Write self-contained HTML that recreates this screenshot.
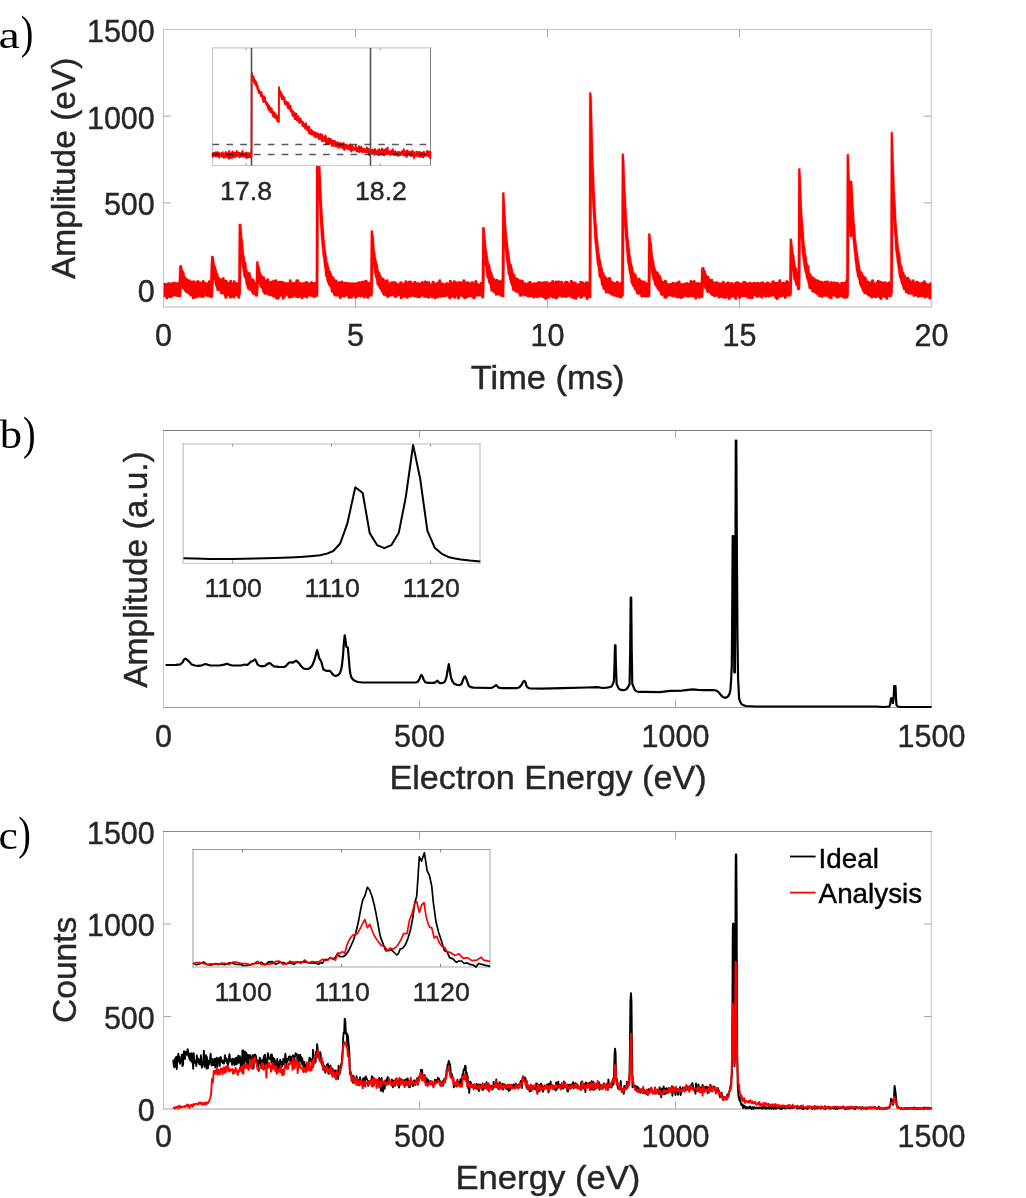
<!DOCTYPE html>
<html lang="en"><head><meta charset="utf-8"><title>Figure</title>
<style>
html,body{margin:0;padding:0;background:#fff;}
body{width:1026px;height:1198px;overflow:hidden;}
svg{display:block;}
.sans{font-family:"Liberation Sans",Arial,Helvetica,sans-serif;stroke:#262626;stroke-width:0.42px;}
.blk{stroke:#000;}
.serif{font-family:"Liberation Serif","Times New Roman",serif;}
</style></head><body>
<svg width="1026" height="1198" viewBox="0 0 1026 1198">
<rect x="0" y="0" width="1026" height="1198" fill="#fff"/>
<rect x="163.5" y="29.5" width="767.8" height="277.5" fill="#fff"/>
<line x1="163.5" y1="29" x2="163.5" y2="307.5" stroke="#c4c4c4" stroke-width="1"/>
<line x1="931.3" y1="29" x2="931.3" y2="307.5" stroke="#c4c4c4" stroke-width="1"/>
<line x1="163" y1="29.5" x2="931.8" y2="29.5" stroke="#c4c4c4" stroke-width="1"/>
<line x1="163" y1="307" x2="931.8" y2="307" stroke="#cfcfcf" stroke-width="1.6"/>
<line x1="355.5" y1="307" x2="355.5" y2="299.3" stroke="#a8a8a8" stroke-width="1"/>
<line x1="355.5" y1="29.5" x2="355.5" y2="37.2" stroke="#a8a8a8" stroke-width="1"/>
<line x1="547.5" y1="307" x2="547.5" y2="299.3" stroke="#a8a8a8" stroke-width="1"/>
<line x1="547.5" y1="29.5" x2="547.5" y2="37.2" stroke="#a8a8a8" stroke-width="1"/>
<line x1="739.5" y1="307" x2="739.5" y2="299.3" stroke="#a8a8a8" stroke-width="1"/>
<line x1="739.5" y1="29.5" x2="739.5" y2="37.2" stroke="#a8a8a8" stroke-width="1"/>
<line x1="163.5" y1="202.9" x2="171.2" y2="202.9" stroke="#a8a8a8" stroke-width="1"/>
<line x1="931.5" y1="202.9" x2="923.8" y2="202.9" stroke="#a8a8a8" stroke-width="1"/>
<line x1="163.5" y1="116.2" x2="171.2" y2="116.2" stroke="#a8a8a8" stroke-width="1"/>
<line x1="931.5" y1="116.2" x2="923.8" y2="116.2" stroke="#a8a8a8" stroke-width="1"/>
<polygon points="163.8,282.9 164.2,282.9 164.8,282.9 165.2,282.9 165.8,282.9 166.2,283.5 166.8,283.5 167.2,282.9 167.8,282.2 168.2,282.2 168.8,282.2 169.2,282.2 169.8,282.2 170.2,283.8 170.8,283 171.2,282.2 171.8,282.2 172.2,282.2 172.8,282.2 173.2,282.1 173.8,282.1 174.2,282.1 174.8,282.1 175.2,282.1 175.8,282.3 176.2,282.4 176.8,282.2 177.2,282.2 177.8,282.2 178.2,282.2 178.8,281.4 179.2,267.4 179.8,265.3 180.2,265.3 180.8,265.3 181.2,265.3 181.8,265.3 182.2,267.7 182.8,270.3 183.2,270.6 183.8,271.6 184.2,272 184.8,275.5 185.2,276.6 185.8,276.6 186.2,278.1 186.8,278.1 187.2,278.2 187.8,279.1 188.2,279.4 188.8,279.4 189.2,279.4 189.8,279.4 190.2,279.4 190.8,280.8 191.2,280.8 191.8,280.8 192.2,280.9 192.8,280.6 193.2,280.6 193.8,280.6 194.2,280.6 194.8,280.6 195.2,281.7 195.8,282.1 196.2,281.6 196.8,280.3 197.2,280.3 197.8,280.3 198.2,280.3 198.8,280.3 199.2,281.6 199.8,281.6 200.2,281.6 200.8,281.6 201.2,281.9 201.8,281.9 202.2,280.3 202.8,280.3 203.2,280.3 203.8,280.3 204.2,280.3 204.8,281.9 205.2,281.9 205.8,282.2 206.2,282.5 206.8,282.5 207.2,282.5 207.8,283.1 208.2,280.5 208.8,280.5 209.2,280.5 209.8,280.5 210.2,280.5 210.8,264 211.2,256 211.8,256 212.2,256 212.8,256 213.2,256 213.8,257.5 214.2,261.1 214.8,264.3 215.2,266.3 215.8,266.3 216.2,269.2 216.8,269.8 217.2,272.8 217.8,273.6 218.2,273.6 218.8,276.9 219.2,276.9 219.8,278.1 220.2,278.1 220.8,278.8 221.2,278.8 221.8,278.8 222.2,277.3 222.8,277.3 223.2,277.3 223.8,277.3 224.2,277.3 224.8,280 225.2,280 225.8,280 226.2,280 226.8,280 227.2,280 227.8,282.1 228.2,282.1 228.8,282.1 229.2,282.1 229.8,280 230.2,280 230.8,280 231.2,280 231.8,280 232.2,282.3 232.8,283 233.2,280.6 233.8,280.6 234.2,280.6 234.8,280.6 235.2,280.6 235.8,282.4 236.2,282.4 236.8,282.4 237.2,282.5 237.8,282.1 238.2,282.1 238.8,224 239.2,224 239.8,224 240.2,224 240.8,224 241.2,224.2 241.8,229.4 242.2,237 242.8,239.5 243.2,245.5 243.8,252.3 244.2,254.9 244.8,256.7 245.2,261.5 245.8,262.2 246.2,263.1 246.8,268.7 247.2,270.3 247.8,271.2 248.2,271.8 248.8,272 249.2,272.2 249.8,272.2 250.2,272.2 250.8,275.1 251.2,277.1 251.8,278.5 252.2,278.5 252.8,278.7 253.2,278.7 253.8,278.7 254.2,280.4 254.8,280.4 255.2,282.2 255.8,282.2 256.2,261.5 256.8,261.5 257.2,261.5 257.8,261.5 258.2,261.5 258.8,264.5 259.2,266.9 259.8,266.9 260.2,270.4 260.8,272.5 261.2,273.4 261.8,275 262.2,275.2 262.8,276.3 263.2,276.3 263.8,276.3 264.2,276.3 264.8,277.3 265.2,279.8 265.8,279.9 266.2,279.8 266.8,278.5 267.2,278.5 267.8,278.5 268.2,278.5 268.8,278.5 269.2,281.7 269.8,281.1 270.2,281.1 270.8,281.1 271.2,281.1 271.8,281.1 272.2,280.2 272.8,280.2 273.2,280.2 273.8,280.2 274.2,280.1 274.8,279.4 275.2,279.4 275.8,279.4 276.2,279.4 276.8,279.4 277.2,281.2 277.8,281.2 278.2,281.2 278.8,281 279.2,281 279.8,281 280.2,281 280.8,281 281.2,281.1 281.8,281.1 282.2,281.1 282.8,281.1 283.2,281.1 283.8,281.9 284.2,281.9 284.8,281.9 285.2,282.3 285.8,282.3 286.2,282.3 286.8,282.3 287.2,282.3 287.8,282.5 288.2,282.5 288.8,282.5 289.2,279.5 289.8,279.5 290.2,279.5 290.8,279.5 291.2,279.5 291.8,282.5 292.2,282.5 292.8,281.9 293.2,281.9 293.8,281.9 294.2,281.9 294.8,281.9 295.2,282.6 295.8,279.5 296.2,279.5 296.8,279.5 297.2,279.5 297.8,279.5 298.2,279.5 298.8,279.5 299.2,281.9 299.8,282 300.2,282 300.8,282 301.2,282 301.8,283.3 302.2,283.3 302.8,282.2 303.2,282.2 303.8,282.2 304.2,282.2 304.8,282.2 305.2,281.3 305.8,281.3 306.2,281.3 306.8,281.3 307.2,281.3 307.8,281.3 308.2,282.6 308.8,282.7 309.2,282.7 309.8,282.7 310.2,281.5 310.8,281.5 311.2,281.5 311.8,281.5 312.2,281.5 312.8,281.8 313.2,282.3 313.8,282.5 314.2,282 314.8,282 315.2,282 315.8,282 316.2,92.7 316.8,92.7 317.2,92.7 317.8,92.7 318.2,92.7 318.8,112.9 319.2,128.8 319.8,149.9 320.2,163.1 320.8,176 321.2,187.3 321.8,197.8 322.2,208 322.8,215.7 323.2,222.8 323.8,230.1 324.2,236.1 324.8,241.4 325.2,246.7 325.8,250.5 326.2,253 326.8,257.3 327.2,260.9 327.8,262.9 328.2,262.9 328.8,266.8 329.2,267.5 329.8,271 330.2,271 330.8,271 331.2,273.6 331.8,273.6 332.2,276 332.8,276.4 333.2,276.8 333.8,276.8 334.2,276.8 334.8,279.4 335.2,279.4 335.8,279.4 336.2,279.7 336.8,279.7 337.2,279.7 337.8,281.7 338.2,281.6 338.8,281.6 339.2,281.6 339.8,281.6 340.2,281.6 340.8,280.8 341.2,280.8 341.8,280.8 342.2,280.8 342.8,280.8 343.2,281.9 343.8,281.9 344.2,281.9 344.8,281.9 345.2,281.9 345.8,281.9 346.2,282 346.8,282 347.2,282 347.8,283.1 348.2,282.2 348.8,282.2 349.2,282.2 349.8,282.2 350.2,282.2 350.8,282.9 351.2,282.5 351.8,282.5 352.2,282.5 352.8,282.5 353.2,282.5 353.8,282.5 354.2,282.4 354.8,282.4 355.2,282.4 355.8,282.4 356.2,282.4 356.8,282.2 357.2,282.1 357.8,282.1 358.2,281.6 358.8,281.6 359.2,281.6 359.8,281.6 360.2,281.6 360.8,281.9 361.2,281 361.8,281 362.2,280.9 362.8,280.9 363.2,280.9 363.8,280.9 364.2,280.4 364.8,280.4 365.2,280.1 365.8,280.1 366.2,280.1 366.8,280.1 367.2,280.1 367.8,282 368.2,282 368.8,282 369.2,282 369.8,282 370.2,282.6 370.8,230.6 371.2,230.6 371.8,230.6 372.2,230.6 372.8,230.6 373.2,234.3 373.8,236.7 374.2,243.2 374.8,250.7 375.2,252.1 375.8,256.9 376.2,260 376.8,260.9 377.2,264.1 377.8,264.1 378.2,269.5 378.8,270.6 379.2,272 379.8,272 380.2,273.4 380.8,274.8 381.2,276.4 381.8,276.4 382.2,278 382.8,278 383.2,278 383.8,278 384.2,278 384.8,280.3 385.2,280.3 385.8,280.3 386.2,279.4 386.8,279.4 387.2,279.4 387.8,279.4 388.2,279.4 388.8,282.5 389.2,282.5 389.8,282.6 390.2,282.6 390.8,281.5 391.2,281.5 391.8,281.5 392.2,281.5 392.8,281.5 393.2,281.2 393.8,281.2 394.2,281.2 394.8,281.2 395.2,281.2 395.8,282.2 396.2,282.2 396.8,282.2 397.2,282.2 397.8,283.9 398.2,283.9 398.8,282.8 399.2,282.8 399.8,281.5 400.2,281.5 400.8,281.5 401.2,281.5 401.8,281.5 402.2,281.6 402.8,283.6 403.2,283.1 403.8,283.1 404.2,283.1 404.8,280.6 405.2,280.6 405.8,280.6 406.2,280.6 406.8,280.6 407.2,282.8 407.8,281.1 408.2,281.1 408.8,281.1 409.2,280.7 409.8,280.7 410.2,280.7 410.8,280.7 411.2,280.7 411.8,281.5 412.2,282.5 412.8,282.6 413.2,283.3 413.8,281 414.2,281 414.8,281 415.2,281 415.8,281 416.2,282.2 416.8,282.2 417.2,282.2 417.8,282.2 418.2,282.5 418.8,282.5 419.2,282.5 419.8,282.5 420.2,282.5 420.8,283 421.2,281.2 421.8,281.2 422.2,281.2 422.8,281.2 423.2,281.2 423.8,282.6 424.2,280.7 424.8,280.7 425.2,280.7 425.8,280.7 426.2,280.7 426.8,281.6 427.2,281.6 427.8,281.2 428.2,281.2 428.8,281.2 429.2,281.2 429.8,281.2 430.2,283.7 430.8,283.8 431.2,283.8 431.8,281.7 432.2,280.9 432.8,280.9 433.2,280.9 433.8,280.9 434.2,280.9 434.8,282.7 435.2,282.7 435.8,282.9 436.2,282.7 436.8,282.1 437.2,282.1 437.8,281.8 438.2,281.8 438.8,279.5 439.2,279.5 439.8,279.5 440.2,279.5 440.8,279.5 441.2,282.5 441.8,282.5 442.2,282.5 442.8,282.5 443.2,282.5 443.8,283.5 444.2,283.5 444.8,283.5 445.2,283.5 445.8,282.3 446.2,282.3 446.8,282.3 447.2,282.3 447.8,282.3 448.2,283.1 448.8,283.2 449.2,280 449.8,280 450.2,280 450.8,280 451.2,280 451.8,281.7 452.2,281.7 452.8,282.9 453.2,280.5 453.8,280.5 454.2,280.5 454.8,280.5 455.2,280.5 455.8,281.6 456.2,281.6 456.8,281.6 457.2,281.6 457.8,283 458.2,281.3 458.8,281.3 459.2,281.3 459.8,281.3 460.2,281.3 460.8,281.7 461.2,281.7 461.8,281.7 462.2,281.7 462.8,279.5 463.2,279.5 463.8,279.5 464.2,279.5 464.8,279.5 465.2,281.4 465.8,281.4 466.2,281.4 466.8,281.4 467.2,281.4 467.8,281.7 468.2,281.7 468.8,281.7 469.2,281.7 469.8,282.3 470.2,282.8 470.8,282.8 471.2,281.3 471.8,281.3 472.2,281.3 472.8,281.3 473.2,281.3 473.8,283.5 474.2,282.4 474.8,280.3 475.2,280.3 475.8,280.3 476.2,280.3 476.8,280.3 477.2,281.5 477.8,283.3 478.2,283.3 478.8,283.4 479.2,283.7 479.8,283.7 480.2,282.1 480.8,281.9 481.2,281.9 481.8,281.9 482.2,227.3 482.8,227.3 483.2,227.3 483.8,227.3 484.2,227.3 484.8,228.2 485.2,235.2 485.8,240.2 486.2,246.1 486.8,250.4 487.2,252 487.8,256.7 488.2,259 488.8,262.4 489.2,263.7 489.8,264.4 490.2,266.2 490.8,269.6 491.2,271.6 491.8,271.6 492.2,273.4 492.8,274.7 493.2,277 493.8,277.4 494.2,278.3 494.8,278.7 495.2,279.4 495.8,279.1 496.2,279.1 496.8,279.1 497.2,279.1 497.8,279.1 498.2,280.2 498.8,280.2 499.2,280.2 499.8,280.2 500.2,280.2 500.8,280.3 501.2,280.3 501.8,279 502.2,192.5 502.8,192.5 503.2,192.5 503.8,192.5 504.2,192.5 504.8,200.2 505.2,207.7 505.8,218.1 506.2,226.9 506.8,232.5 507.2,236.7 507.8,241.5 508.2,247 508.8,250.2 509.2,252.4 509.8,257.8 510.2,261.5 510.8,264.2 511.2,264.2 511.8,264.2 512.2,268.6 512.8,268.6 513.2,272.9 513.8,272.9 514.2,273.7 514.8,274.4 515.2,274.4 515.8,277.3 516.2,277.9 516.8,277.9 517.2,277.9 517.8,277.9 518.2,278.7 518.8,278.7 519.2,279.6 519.8,279.6 520.2,279.6 520.8,279.6 521.2,279.6 521.8,280 522.2,280 522.8,280 523.2,280 523.8,282.2 524.2,282.2 524.8,282.2 525.2,282.2 525.8,282.8 526.2,282.8 526.8,283.5 527.2,283.3 527.8,281.8 528.2,281.8 528.8,281.8 529.2,281.2 529.8,281.2 530.2,281.2 530.8,281.2 531.2,281.2 531.8,283.5 532.2,283.3 532.8,282.6 533.2,282.6 533.8,282.6 534.2,282.6 534.8,282.6 535.2,282.6 535.8,282.6 536.2,282.6 536.8,282.6 537.2,281.6 537.8,281.6 538.2,281.6 538.8,281.6 539.2,281.6 539.8,281.6 540.2,281.6 540.8,281.6 541.2,281.6 541.8,282.2 542.2,281.7 542.8,281.7 543.2,281.7 543.8,281.7 544.2,281.2 544.8,281.2 545.2,281.2 545.8,281.2 546.2,281.2 546.8,281.2 547.2,281.2 547.8,281.2 548.2,282.7 548.8,282.7 549.2,281.9 549.8,281.9 550.2,281.9 550.8,281.9 551.2,281.9 551.8,280.3 552.2,280.3 552.8,280.3 553.2,280.3 553.8,280.3 554.2,281.7 554.8,281.7 555.2,280.8 555.8,280.8 556.2,280.8 556.8,280.8 557.2,280.8 557.8,280.8 558.2,280.8 558.8,280.8 559.2,280.8 559.8,280.8 560.2,281.4 560.8,281 561.2,281 561.8,281 562.2,281 562.8,281 563.2,283.5 563.8,283.5 564.2,281.9 564.8,281 565.2,281 565.8,281 566.2,281 566.8,281 567.2,281 567.8,281 568.2,281 568.8,283.1 569.2,282.8 569.8,282.8 570.2,280.1 570.8,280.1 571.2,280.1 571.8,280.1 572.2,280.1 572.8,281.6 573.2,281.6 573.8,281.6 574.2,281.6 574.8,281.6 575.2,281.9 575.8,281.9 576.2,281.9 576.8,283.6 577.2,283.4 577.8,283.4 578.2,283.4 578.8,283.4 579.2,283.4 579.8,280.9 580.2,280.9 580.8,280.9 581.2,280.9 581.8,280.9 582.2,281.7 582.8,281.7 583.2,281.7 583.8,281.7 584.2,283 584.8,283 585.2,281.6 585.8,281.6 586.2,281.6 586.8,281.6 587.2,281.6 587.8,281.6 588.2,281.6 588.8,281.6 589.2,92.4 589.8,92.4 590.2,92.4 590.8,92.4 591.2,92.4 591.8,99.6 592.2,119.5 592.8,138 593.2,154.9 593.8,168.2 594.2,181 594.8,193.8 595.2,201.7 595.8,211 596.2,219.9 596.8,225.9 597.2,232.6 597.8,238.5 598.2,242.2 598.8,248 599.2,252.7 599.8,255.1 600.2,258.9 600.8,260 601.2,263 601.8,266.3 602.2,267.6 602.8,268.8 603.2,272.5 603.8,272.5 604.2,272.5 604.8,275.7 605.2,275.8 605.8,275.8 606.2,277.5 606.8,277.5 607.2,278 607.8,277.6 608.2,277.6 608.8,277.3 609.2,277.3 609.8,277.3 610.2,277.3 610.8,277.3 611.2,280.9 611.8,280.9 612.2,280.9 612.8,280.9 613.2,282.1 613.8,282.1 614.2,282.1 614.8,282.4 615.2,282.4 615.8,282.4 616.2,280.9 616.8,280.9 617.2,280.9 617.8,280.9 618.2,280.9 618.8,282.5 619.2,282.5 619.8,282.5 620.2,282.3 620.8,282.2 621.2,282.2 621.8,153.8 622.2,153.8 622.8,153.8 623.2,153.8 623.8,153.8 624.2,160.6 624.8,174.5 625.2,187.7 625.8,195.3 626.2,206.1 626.8,215.3 627.2,221.9 627.8,228.9 628.2,236.8 628.8,239.8 629.2,245.8 629.8,248.9 630.2,253.6 630.8,256.6 631.2,259.2 631.8,262.8 632.2,265.6 632.8,266 633.2,268.5 633.8,271.7 634.2,272.1 634.8,274 635.2,274 635.8,274 636.2,274 636.8,276.5 637.2,278.2 637.8,278.6 638.2,278 638.8,278 639.2,278 639.8,278 640.2,278 640.8,279.9 641.2,279.9 641.8,280.6 642.2,280.6 642.8,280.6 643.2,280.8 643.8,280.8 644.2,280.8 644.8,280.8 645.2,280.8 645.8,282.6 646.2,282.6 646.8,282.6 647.2,282.2 647.8,282.2 648.2,233.6 648.8,233.6 649.2,233.6 649.8,233.6 650.2,233.6 650.8,237.5 651.2,242.7 651.8,242.7 652.2,250.8 652.8,255 653.2,258.8 653.8,259.8 654.2,262.6 654.8,266.6 655.2,267 655.8,269.7 656.2,270 656.8,271.7 657.2,271.7 657.8,271.7 658.2,271.7 658.8,274 659.2,274 659.8,275.3 660.2,275.3 660.8,275.3 661.2,278.6 661.8,278.6 662.2,280.9 662.8,280.9 663.2,280.9 663.8,281.4 664.2,279.9 664.8,279.9 665.2,279.9 665.8,279.9 666.2,279.9 666.8,281.1 667.2,282.3 667.8,283.8 668.2,283.8 668.8,283.3 669.2,283.3 669.8,283.3 670.2,283.2 670.8,283.2 671.2,283.1 671.8,283.1 672.2,282.1 672.8,282.1 673.2,282.1 673.8,282.1 674.2,282.1 674.8,283 675.2,283 675.8,282.1 676.2,282.1 676.8,282.1 677.2,281.7 677.8,281.6 678.2,280.7 678.8,280.7 679.2,280.7 679.8,280.7 680.2,280.7 680.8,283.3 681.2,283.3 681.8,283.3 682.2,283.3 682.8,283.3 683.2,283.3 683.8,283.3 684.2,283 684.8,283 685.2,283 685.8,282.3 686.2,282.3 686.8,282.3 687.2,282.3 687.8,282.3 688.2,282.9 688.8,282.9 689.2,283.2 689.8,280.2 690.2,280.2 690.8,280.2 691.2,280.2 691.8,280.2 692.2,280.9 692.8,280.9 693.2,280.3 693.8,280.3 694.2,280.3 694.8,280.3 695.2,280.3 695.8,282.4 696.2,282.4 696.8,282.3 697.2,282.3 697.8,282.3 698.2,282.3 698.8,282.3 699.2,282.4 699.8,282.7 700.2,282.7 700.8,282 701.2,268.8 701.8,267.3 702.2,267.3 702.8,267.3 703.2,267.3 703.8,267.3 704.2,267.6 704.8,270.6 705.2,270.6 705.8,271.1 706.2,274.5 706.8,274.5 707.2,275.9 707.8,275.9 708.2,275.9 708.8,275.9 709.2,278.2 709.8,278.2 710.2,279.5 710.8,279 711.2,279 711.8,279 712.2,279 712.8,279 713.2,281.5 713.8,281.5 714.2,281.9 714.8,281.9 715.2,281.4 715.8,281.4 716.2,281.4 716.8,281.4 717.2,281.4 717.8,281.4 718.2,282.3 718.8,282.4 719.2,282.4 719.8,282.4 720.2,282.5 720.8,282.5 721.2,283 721.8,283 722.2,281.1 722.8,281.1 723.2,281.1 723.8,281.1 724.2,281.1 724.8,282.4 725.2,282.4 725.8,283.9 726.2,282.3 726.8,282.3 727.2,281.8 727.8,281.8 728.2,281.8 728.8,281.8 729.2,281.8 729.8,282.8 730.2,282.8 730.8,282.3 731.2,282.3 731.8,282.3 732.2,282.3 732.8,282.3 733.2,283.3 733.8,283.3 734.2,283.3 734.8,282.1 735.2,282.1 735.8,282.1 736.2,281.5 736.8,281.5 737.2,281.5 737.8,281.5 738.2,281.5 738.8,281.9 739.2,282.6 739.8,282.6 740.2,282.6 740.8,282.6 741.2,283.1 741.8,283.1 742.2,283.1 742.8,281.3 743.2,281.1 743.8,281.1 744.2,281.1 744.8,281.1 745.2,281.1 745.8,281.8 746.2,281.8 746.8,282.6 747.2,282.6 747.8,282.6 748.2,283 748.8,282.4 749.2,281.9 749.8,281.9 750.2,281.9 750.8,281.9 751.2,281.9 751.8,283.1 752.2,283.1 752.8,282.1 753.2,282.1 753.8,282.1 754.2,282.1 754.8,282.1 755.2,282.5 755.8,282.8 756.2,282 756.8,282 757.2,282 757.8,282 758.2,282 758.8,282.6 759.2,282.6 759.8,282.3 760.2,282.3 760.8,282 761.2,282 761.8,281.6 762.2,281.6 762.8,281.6 763.2,281.6 763.8,281.6 764.2,283.1 764.8,283.1 765.2,283.1 765.8,282.5 766.2,281.8 766.8,281.8 767.2,281.8 767.8,281.8 768.2,281.8 768.8,282.1 769.2,282.1 769.8,283.2 770.2,283 770.8,283 771.2,282 771.8,282 772.2,280.5 772.8,280.5 773.2,280.5 773.8,280.5 774.2,280.5 774.8,282.1 775.2,282 775.8,282 776.2,282 776.8,282 777.2,282 777.8,282.3 778.2,281.9 778.8,279.5 779.2,279.5 779.8,279.5 780.2,279.5 780.8,279.5 781.2,282.6 781.8,282.6 782.2,282.1 782.8,282.1 783.2,282.1 783.8,282.1 784.2,282.1 784.8,282.3 785.2,282.3 785.8,280.3 786.2,280.3 786.8,280.3 787.2,280.3 787.8,280.3 788.2,281.5 788.8,281.5 789.2,283.1 789.8,238.7 790.2,238.7 790.8,238.7 791.2,238.7 791.8,238.7 792.2,242.9 792.8,246.5 793.2,250.1 793.8,254.7 794.2,254.7 794.8,261 795.2,262.4 795.8,267.2 796.2,267.5 796.8,267.8 797.2,270.8 797.8,271.9 798.2,168.5 798.8,168.5 799.2,168.5 799.8,168.5 800.2,168.5 800.8,176.9 801.2,190.4 801.8,203.3 802.2,214.3 802.8,220.2 803.2,225.2 803.8,232.8 804.2,240.3 804.8,245.9 805.2,247.1 805.8,253 806.2,255.1 806.8,258 807.2,262.6 807.8,264.3 808.2,265.6 808.8,265.6 809.2,265.6 809.8,272.9 810.2,272.9 810.8,274.1 811.2,274.1 811.8,275.8 812.2,276.5 812.8,276.5 813.2,276.5 813.8,277 814.2,278.1 814.8,278.1 815.2,278.1 815.8,279.3 816.2,279.3 816.8,279.3 817.2,279.6 817.8,279.6 818.2,279.6 818.8,280.2 819.2,280.2 819.8,280.2 820.2,280.9 820.8,280.9 821.2,280.9 821.8,280.9 822.2,281.3 822.8,281.3 823.2,281.8 823.8,281.8 824.2,280.9 824.8,280.9 825.2,280.9 825.8,280.8 826.2,280.8 826.8,280.8 827.2,280.8 827.8,280.8 828.2,280.8 828.8,280.8 829.2,282.7 829.8,282.6 830.2,281.2 830.8,281.2 831.2,281.2 831.8,281.2 832.2,281.2 832.8,282.6 833.2,281.7 833.8,281.7 834.2,281.7 834.8,281.7 835.2,281.7 835.8,282.2 836.2,282.2 836.8,282.1 837.2,282.1 837.8,282.1 838.2,282.1 838.8,282.1 839.2,283.7 839.8,283.7 840.2,283.4 840.8,282 841.2,282 841.8,282 842.2,282 842.8,282 843.2,282 843.8,282 844.2,282 844.8,282 845.2,282 845.8,279.5 846.2,279.5 846.8,154.3 847.2,154.3 847.8,154.3 848.2,154.3 848.8,154.3 849.2,166.8 849.8,180.1 850.2,181 850.8,181 851.2,181 851.8,181 852.2,181 852.8,190.1 853.2,200.1 853.8,209.6 854.2,217.9 854.8,224.5 855.2,229 855.8,237.3 856.2,241.7 856.8,244.4 857.2,250.2 857.8,252.6 858.2,256 858.8,260.2 859.2,261.3 859.8,265 860.2,268.4 860.8,270.3 861.2,271.7 861.8,271.7 862.2,271.8 862.8,273.4 863.2,274.7 863.8,275 864.2,276 864.8,276 865.2,276.9 865.8,276.9 866.2,276.9 866.8,278.5 867.2,279.4 867.8,281 868.2,281 868.8,281 869.2,281.4 869.8,281.4 870.2,281.4 870.8,281.9 871.2,280.1 871.8,279.6 872.2,279.6 872.8,279.6 873.2,279.6 873.8,279.6 874.2,282.5 874.8,282.5 875.2,282.5 875.8,282.5 876.2,281.6 876.8,281.6 877.2,280 877.8,280 878.2,280 878.8,280 879.2,280 879.8,281 880.2,281 880.8,281 881.2,281 881.8,281 882.2,282 882.8,281.7 883.2,281.7 883.8,281.7 884.2,281.5 884.8,281.5 885.2,281.5 885.8,281.5 886.2,281.5 886.8,283.1 887.2,283.1 887.8,281.7 888.2,281.7 888.8,281.4 889.2,281.4 889.8,281.4 890.2,281.4 890.8,132.2 891.2,132.2 891.8,132.2 892.2,132.2 892.8,132.2 893.2,147.3 893.8,164 894.2,175.8 894.8,191.3 895.2,198.7 895.8,207 896.2,218.7 896.8,226.6 897.2,232 897.8,237.1 898.2,242.4 898.8,247.3 899.2,250.9 899.8,253.6 900.2,253.6 900.8,261.5 901.2,264.3 901.8,265.3 902.2,265.7 902.8,268.8 903.2,271.4 903.8,272 904.2,272.6 904.8,275.2 905.2,275.2 905.8,275.2 906.2,278.2 906.8,276.9 907.2,276.9 907.8,276.9 908.2,276.9 908.8,276.9 909.2,278.8 909.8,279.5 910.2,279.5 910.8,279.5 911.2,280.2 911.8,281.7 912.2,279.6 912.8,279.6 913.2,279.6 913.8,279.6 914.2,279.6 914.8,282.3 915.2,282.3 915.8,280.9 916.2,280.9 916.8,280.9 917.2,280.9 917.8,280.9 918.2,281.4 918.8,281.4 919.2,282.3 919.8,282.5 920.2,282.8 920.8,282.8 921.2,282.1 921.8,282.1 922.2,282.1 922.8,282.1 923.2,280.6 923.8,280.6 924.2,280.6 924.8,280.6 925.2,280.6 925.8,281.8 926.2,283 926.8,283 927.2,283 927.8,283.8 928.2,283.8 928.8,283.8 929.2,283.2 929.8,282.5 930.2,282.5 930.8,282.5 931.2,282.5 931.2,298.9 930.8,299.3 930.2,299.3 929.8,299.3 929.2,299.3 928.8,299.3 928.2,296.5 927.8,297.4 927.2,297.5 926.8,297.5 926.2,298.3 925.8,298.3 925.2,298.3 924.8,298.3 924.2,298.3 923.8,297 923.2,297 922.8,297 922.2,297 921.8,296.9 921.2,296.9 920.8,296.9 920.2,296.9 919.8,296.9 919.2,297.4 918.8,297.4 918.2,297.4 917.8,297.4 917.2,297.4 916.8,296.1 916.2,296.1 915.8,296.1 915.2,296.7 914.8,296.7 914.2,296.7 913.8,296.7 913.2,296.7 912.8,295.1 912.2,295.1 911.8,295.1 911.2,294.7 910.8,294 910.2,294.6 909.8,294.6 909.2,294.6 908.8,294.6 908.2,294.6 907.8,294.3 907.2,293.6 906.8,293.1 906.2,293.1 905.8,293.1 905.2,293.1 904.8,290.3 904.2,289.9 903.8,289.9 903.2,289.9 902.8,287.7 902.2,286.7 901.8,284.5 901.2,283.9 900.8,282.2 900.2,279.8 899.8,277.9 899.2,277.7 898.8,274.8 898.2,270.6 897.8,267.2 897.2,263.6 896.8,260.8 896.2,256.5 895.8,252.8 895.2,249 894.8,238.6 894.2,233.1 893.8,226.8 893.2,217.2 892.8,291.5 892.2,294.7 891.8,296.2 891.2,297 890.8,297 890.2,297 889.8,297 889.2,297 888.8,296.8 888.2,296.8 887.8,299.4 887.2,299.4 886.8,299.4 886.2,299.4 885.8,299.4 885.2,297.8 884.8,297.8 884.2,297.8 883.8,297.4 883.2,297.3 882.8,297.3 882.2,298.8 881.8,299.7 881.2,299.7 880.8,299.7 880.2,299.7 879.8,299.7 879.2,297.9 878.8,297.3 878.2,297.3 877.8,297.3 877.2,297.9 876.8,297.9 876.2,297.9 875.8,297.9 875.2,297.9 874.8,297.4 874.2,297.4 873.8,297.4 873.2,297.4 872.8,298.2 872.2,298.2 871.8,298.2 871.2,298.2 870.8,298.2 870.2,296.6 869.8,296.6 869.2,296.6 868.8,296.4 868.2,296.4 867.8,295.2 867.2,295.2 866.8,295.2 866.2,294 865.8,294 865.2,294 864.8,294 864.2,294 863.8,294 863.2,291.8 862.8,291.8 862.2,291.8 861.8,289.2 861.2,288.2 860.8,287.5 860.2,286.7 859.8,284.4 859.2,284.4 858.8,280.2 858.2,279.2 857.8,277.1 857.2,277.1 856.8,273.5 856.2,271.5 855.8,268.6 855.2,262.8 854.8,260.3 854.2,254.1 853.8,250.1 853.2,244.7 852.8,239.9 852.2,235.1 851.8,237 851.2,237 850.8,237 850.2,237 849.8,237 849.2,227.6 848.8,294.8 848.2,297.6 847.8,298.3 847.2,298.3 846.8,298.3 846.2,298.3 845.8,298.7 845.2,298.7 844.8,298.7 844.2,298.7 843.8,298.7 843.2,298.1 842.8,298.1 842.2,297.3 841.8,297.3 841.2,297.3 840.8,296.9 840.2,296.9 839.8,296.9 839.2,298.1 838.8,298.1 838.2,298.3 837.8,298.3 837.2,298.3 836.8,298.3 836.2,298.3 835.8,297.1 835.2,297 834.8,297 834.2,295.9 833.8,295.9 833.2,295.9 832.8,295.9 832.2,298.9 831.8,298.9 831.2,298.9 830.8,298.9 830.2,298.9 829.8,298.3 829.2,298.3 828.8,298.3 828.2,298.3 827.8,296.1 827.2,296.8 826.8,296.8 826.2,296.8 825.8,296.8 825.2,296.8 824.8,296.8 824.2,296.2 823.8,295.4 823.2,297.8 822.8,297.8 822.2,297.8 821.8,297.8 821.2,297.8 820.8,296.7 820.2,296.9 819.8,296.9 819.2,296.9 818.8,296.9 818.2,296.9 817.8,295 817.2,295 816.8,295 816.2,294.5 815.8,293.7 815.2,293.7 814.8,293.2 814.2,293 813.8,293 813.2,292.3 812.8,292.3 812.2,292.3 811.8,292.3 811.2,290.6 810.8,289.2 810.2,289.2 809.8,288.8 809.2,288.8 808.8,288.8 808.2,285.1 807.8,283 807.2,280.8 806.8,279.6 806.2,278.4 805.8,275.5 805.2,273.1 804.8,272.6 804.2,269.1 803.8,267.3 803.2,261.7 802.8,259 802.2,255.2 801.8,250.7 801.2,241.3 800.8,235.2 800.2,287 799.8,289.9 799.2,289.9 798.8,289.9 798.2,289.9 797.8,289.9 797.2,289.7 796.8,286.1 796.2,286.1 795.8,285.8 795.2,283.4 794.8,281.9 794.2,280 793.8,280 793.2,278 792.8,272.8 792.2,270 791.8,294.2 791.2,295.3 790.8,296.3 790.2,296.3 789.8,296.3 789.2,296.3 788.8,296.3 788.2,296.5 787.8,296.5 787.2,296.5 786.8,296.5 786.2,298.5 785.8,298.5 785.2,298.5 784.8,298.5 784.2,298.5 783.8,296.8 783.2,296.8 782.8,296.8 782.2,296.8 781.8,296.3 781.2,297.6 780.8,297.6 780.2,297.6 779.8,297.6 779.2,297.6 778.8,297.4 778.2,299.8 777.8,299.8 777.2,299.8 776.8,299.8 776.2,299.8 775.8,298.5 775.2,298.5 774.8,298.5 774.2,296.2 773.8,296.2 773.2,296.2 772.8,296 772.2,296.5 771.8,296.5 771.2,296.5 770.8,296.5 770.2,297.3 769.8,297.3 769.2,297.3 768.8,297.3 768.2,297.3 767.8,296.8 767.2,297 766.8,297 766.2,297.3 765.8,297.3 765.2,297.3 764.8,297.3 764.2,297.3 763.8,295.8 763.2,295.8 762.8,298.2 762.2,298.2 761.8,298.2 761.2,298.2 760.8,298.2 760.2,297.2 759.8,296.3 759.2,297.6 758.8,297.6 758.2,297.6 757.8,297.6 757.2,297.6 756.8,297.5 756.2,297.5 755.8,297.2 755.2,295.8 754.8,295.8 754.2,296 753.8,296.8 753.2,298.9 752.8,298.9 752.2,298.9 751.8,298.9 751.2,298.9 750.8,298.7 750.2,298.7 749.8,298.7 749.2,298.7 748.8,298.5 748.2,298.5 747.8,298.5 747.2,298.5 746.8,298.5 746.2,297.1 745.8,297.1 745.2,297.1 744.8,297.1 744.2,297 743.8,297 743.2,297 742.8,297 742.2,297 741.8,296.9 741.2,296.9 740.8,298.8 740.2,298.8 739.8,298.8 739.2,298.8 738.8,298.8 738.2,297.1 737.8,296.2 737.2,296 736.8,299.8 736.2,299.8 735.8,299.8 735.2,299.8 734.8,299.8 734.2,297.3 733.8,297.3 733.2,297.5 732.8,297.5 732.2,297.5 731.8,297.6 731.2,297.6 730.8,297.9 730.2,299.8 729.8,299.8 729.2,299.8 728.8,299.8 728.2,299.8 727.8,296 727.2,298.6 726.8,298.6 726.2,298.6 725.8,298.6 725.2,298.6 724.8,298.4 724.2,298.4 723.8,298.4 723.2,298.3 722.8,298.3 722.2,297.7 721.8,297.7 721.2,297.5 720.8,297.5 720.2,298.3 719.8,298.3 719.2,298.3 718.8,298.3 718.2,298.3 717.8,296.8 717.2,296.8 716.8,296.2 716.2,296.2 715.8,296.9 715.2,296.9 714.8,296.9 714.2,296.9 713.8,296.9 713.2,296.1 712.8,296.1 712.2,296.1 711.8,295.5 711.2,295.5 710.8,294.9 710.2,294.2 709.8,293 709.2,293 708.8,293 708.2,293 707.8,292.7 707.2,292.7 706.8,292.7 706.2,291.2 705.8,289.3 705.2,288.9 704.8,288.9 704.2,287.7 703.8,284.9 703.2,297 702.8,297.7 702.2,297.7 701.8,297.7 701.2,297.8 700.8,297.8 700.2,298.4 699.8,298.4 699.2,298.4 698.8,298.4 698.2,298.4 697.8,296.9 697.2,296.9 696.8,299.3 696.2,299.3 695.8,299.3 695.2,299.3 694.8,299.3 694.2,297.1 693.8,297.1 693.2,297.1 692.8,297.1 692.2,297 691.8,297 691.2,297 690.8,296.6 690.2,297.4 689.8,297.4 689.2,297.4 688.8,297.4 688.2,297.4 687.8,297.2 687.2,297.2 686.8,297.2 686.2,297.2 685.8,297.2 685.2,296.3 684.8,296.3 684.2,297.4 683.8,297.4 683.2,298 682.8,298 682.2,298.7 681.8,298.7 681.2,298.7 680.8,298.7 680.2,298.7 679.8,298.1 679.2,298.1 678.8,298.1 678.2,298.1 677.8,298.1 677.2,298.1 676.8,298.1 676.2,298.1 675.8,298.1 675.2,295 674.8,297.3 674.2,297.3 673.8,297.3 673.2,297.3 672.8,297.3 672.2,296.8 671.8,296.8 671.2,296.8 670.8,296.8 670.2,296 669.8,296 669.2,296 668.8,296 668.2,297.1 667.8,297.1 667.2,297.1 666.8,298.4 666.2,298.4 665.8,298.5 665.2,298.5 664.8,298.5 664.2,298.5 663.8,298.5 663.2,295.2 662.8,295.8 662.2,295.8 661.8,295.8 661.2,295.8 660.8,295.8 660.2,293.7 659.8,292.6 659.2,291.6 658.8,291.6 658.2,290.2 657.8,289.6 657.2,289.6 656.8,289.1 656.2,287.1 655.8,287.1 655.2,286.1 654.8,284.9 654.2,284.9 653.8,282.3 653.2,280.1 652.8,280.1 652.2,276.5 651.8,274.8 651.2,272.9 650.8,267.4 650.2,294.4 649.8,296.4 649.2,297.3 648.8,297.3 648.2,297.3 647.8,297.3 647.2,297.3 646.8,296.9 646.2,297.2 645.8,297.2 645.2,297.2 644.8,297.2 644.2,297.2 643.8,296.9 643.2,296.9 642.8,297.3 642.2,297.3 641.8,297.3 641.2,297.3 640.8,297.3 640.2,294.9 639.8,294.9 639.2,294.6 638.8,294.6 638.2,294.6 637.8,294.6 637.2,293.9 636.8,293.9 636.2,293.9 635.8,291.2 635.2,290.4 634.8,290.4 634.2,289.8 633.8,288 633.2,287 632.8,287 632.2,285.2 631.8,285.2 631.2,283.1 630.8,283.1 630.2,278.1 629.8,275.1 629.2,273.1 628.8,271.2 628.2,267.3 627.8,264.1 627.2,262 626.8,256.3 626.2,250 625.8,242.4 625.2,239.6 624.8,230.4 624.2,223.9 623.8,295.8 623.2,295.8 622.8,296.3 622.2,297.6 621.8,298.2 621.2,298.2 620.8,298.2 620.2,298.2 619.8,298.2 619.2,297.5 618.8,297.5 618.2,297.5 617.8,297.5 617.2,297.1 616.8,297.1 616.2,297.1 615.8,296.6 615.2,296.6 614.8,296.6 614.2,296.6 613.8,296.6 613.2,296.5 612.8,295.4 612.2,295.4 611.8,295.4 611.2,295.4 610.8,295.4 610.2,294.2 609.8,293.9 609.2,293.9 608.8,293.9 608.2,293.3 607.8,293 607.2,293.3 606.8,293.3 606.2,293.3 605.8,293.3 605.2,293.3 604.8,290.5 604.2,289.9 603.8,289.9 603.2,289.2 602.8,289.2 602.2,286 601.8,286 601.2,285.1 600.8,281.8 600.2,278.7 599.8,278 599.2,276.9 598.8,276.5 598.2,271.6 597.8,266.9 597.2,265 596.8,262.7 596.2,256.3 595.8,252.7 595.2,245.6 594.8,243.2 594.2,236.8 593.8,227.3 593.2,218.3 592.8,209.9 592.2,200.6 591.8,189.5 591.2,297.9 590.8,297.9 590.2,297.9 589.8,297.9 589.2,297.9 588.8,297.4 588.2,299.8 587.8,299.8 587.2,299.8 586.8,299.8 586.2,299.8 585.8,297.3 585.2,297.3 584.8,297.2 584.2,295.7 583.8,295.7 583.2,297.1 582.8,297.8 582.2,297.8 581.8,298.5 581.2,298.5 580.8,298.5 580.2,298.5 579.8,298.5 579.2,296.1 578.8,296.9 578.2,296.9 577.8,297.5 577.2,297.8 576.8,299.5 576.2,299.5 575.8,299.5 575.2,299.5 574.8,299.5 574.2,298.8 573.8,298.8 573.2,298.8 572.8,298.8 572.2,298.8 571.8,297.8 571.2,297.8 570.8,297.8 570.2,296.7 569.8,296.7 569.2,296.7 568.8,296.7 568.2,296.7 567.8,296.7 567.2,297.7 566.8,297.7 566.2,297.7 565.8,297.7 565.2,297.7 564.8,297.1 564.2,297.5 563.8,297.5 563.2,297.5 562.8,297.5 562.2,297.5 561.8,297.4 561.2,297.4 560.8,297.4 560.2,296.5 559.8,296.5 559.2,297.1 558.8,297.1 558.2,298 557.8,298 557.2,299.3 556.8,299.3 556.2,299.3 555.8,299.3 555.2,299.3 554.8,298.2 554.2,298.2 553.8,298.3 553.2,298.3 552.8,298.3 552.2,298.3 551.8,298.3 551.2,296.9 550.8,296.9 550.2,296.9 549.8,297.8 549.2,298.4 548.8,298.4 548.2,298.4 547.8,298.4 547.2,298.4 546.8,299.8 546.2,299.8 545.8,299.8 545.2,299.8 544.8,299.8 544.2,298.3 543.8,298.3 543.2,297.9 542.8,297.9 542.2,297.9 541.8,296.9 541.2,296.9 540.8,297 540.2,297 539.8,297 539.2,297 538.8,297.9 538.2,297.9 537.8,297.9 537.2,297.9 536.8,297.9 536.2,297.6 535.8,297.4 535.2,297.4 534.8,298.3 534.2,298.3 533.8,298.3 533.2,298.3 532.8,298.3 532.2,296.6 531.8,297 531.2,297 530.8,297 530.2,297 529.8,297 529.2,297.3 528.8,297.3 528.2,297.3 527.8,297.3 527.2,297.3 526.8,296.2 526.2,296.2 525.8,296.2 525.2,296.2 524.8,296.2 524.2,296.1 523.8,295.5 523.2,295.6 522.8,295.6 522.2,296.5 521.8,296.5 521.2,296.5 520.8,296.5 520.2,296.5 519.8,296.5 519.2,296.5 518.8,293.7 518.2,293.7 517.8,293.7 517.2,292.4 516.8,292.4 516.2,292.4 515.8,292.4 515.2,292.1 514.8,292.1 514.2,291.3 513.8,291.3 513.2,290.5 512.8,290.5 512.2,290.5 511.8,286 511.2,286 510.8,283.4 510.2,283.4 509.8,280.7 509.2,278.9 508.8,275.7 508.2,274.7 507.8,273.7 507.2,267.7 506.8,264 506.2,261.2 505.8,256.1 505.2,252.2 504.8,245.9 504.2,297 503.8,297 503.2,297 502.8,297 502.2,297 501.8,296.9 501.2,296.4 500.8,296.4 500.2,296.4 499.8,295.3 499.2,295.3 498.8,295.3 498.2,295.3 497.8,294.7 497.2,295.4 496.8,295.4 496.2,295.4 495.8,295.4 495.2,295.4 494.8,293.2 494.2,293.2 493.8,292.9 493.2,292.9 492.8,291.4 492.2,291.4 491.8,291.4 491.2,291.4 490.8,291.4 490.2,288.2 489.8,284.9 489.2,284 488.8,282.9 488.2,282.7 487.8,279 487.2,278.4 486.8,277.3 486.2,274.3 485.8,269.1 485.2,265.6 484.8,265.6 484.2,294.7 483.8,298.2 483.2,298.2 482.8,298.2 482.2,298.2 481.8,298.2 481.2,296.3 480.8,296.3 480.2,296.1 479.8,296.1 479.2,296.2 478.8,296.2 478.2,296.2 477.8,296.2 477.2,296.2 476.8,296.4 476.2,296.4 475.8,296.4 475.2,299 474.8,299 474.2,299 473.8,299 473.2,299 472.8,298.6 472.2,298.1 471.8,297.1 471.2,297.1 470.8,297.1 470.2,297 469.8,297 469.2,297 468.8,297 468.2,298 467.8,298 467.2,298 466.8,298.1 466.2,298.1 465.8,299.1 465.2,299.1 464.8,299.1 464.2,299.1 463.8,299.1 463.2,297.8 462.8,297 462.2,297 461.8,297 461.2,296.3 460.8,296.3 460.2,296.8 459.8,298.2 459.2,299.2 458.8,299.2 458.2,299.2 457.8,299.2 457.2,299.2 456.8,296.6 456.2,296.4 455.8,298.6 455.2,298.6 454.8,298.6 454.2,298.6 453.8,298.6 453.2,297.6 452.8,297.6 452.2,297.6 451.8,297.6 451.2,298.1 450.8,299 450.2,299 449.8,299 449.2,299 448.8,299 448.2,297.3 447.8,296.3 447.2,296.3 446.8,296.8 446.2,296.8 445.8,297 445.2,297 444.8,297 444.2,297 443.8,297 443.2,296.9 442.8,297.2 442.2,297.2 441.8,297.2 441.2,297.4 440.8,297.4 440.2,297.4 439.8,297.4 439.2,297.8 438.8,297.8 438.2,298 437.8,298 437.2,298 436.8,298 436.2,299 435.8,299 435.2,299 434.8,299 434.2,299 433.8,297 433.2,298.2 432.8,298.2 432.2,298.2 431.8,298.2 431.2,298.2 430.8,296.4 430.2,296.4 429.8,298.5 429.2,298.5 428.8,298.5 428.2,298.5 427.8,298.5 427.2,297.9 426.8,297.9 426.2,296.7 425.8,297.8 425.2,297.8 424.8,297.8 424.2,297.8 423.8,297.8 423.2,296.6 422.8,296.6 422.2,296.6 421.8,296.6 421.2,296.2 420.8,297.8 420.2,297.8 419.8,297.8 419.2,298 418.8,298 418.2,298 417.8,298 417.2,298 416.8,297.2 416.2,297.3 415.8,297.3 415.2,297.3 414.8,297.3 414.2,297.3 413.8,296.9 413.2,296.9 412.8,295.9 412.2,296.2 411.8,297.2 411.2,297.2 410.8,297.2 410.2,297.2 409.8,297.2 409.2,296.9 408.8,297.7 408.2,298.5 407.8,298.5 407.2,298.5 406.8,298.5 406.2,298.5 405.8,297.3 405.2,297.5 404.8,297.5 404.2,297.5 403.8,297.5 403.2,297.5 402.8,297.2 402.2,299 401.8,299 401.2,299 400.8,299 400.2,299 399.8,296.1 399.2,296.1 398.8,296.1 398.2,296.1 397.8,296.2 397.2,297.8 396.8,297.8 396.2,297.8 395.8,297.8 395.2,297.8 394.8,297.2 394.2,297.2 393.8,297.2 393.2,295.8 392.8,295.8 392.2,295.8 391.8,295.9 391.2,296.6 390.8,296.6 390.2,296.6 389.8,296.6 389.2,296.6 388.8,297.8 388.2,297.8 387.8,297.8 387.2,297.8 386.8,297.8 386.2,296.1 385.8,295.9 385.2,295.9 384.8,295.7 384.2,295.7 383.8,295.7 383.2,295.7 382.8,294 382.2,294 381.8,291.8 381.2,291.8 380.8,291.8 380.2,289.3 379.8,289.1 379.2,289.1 378.8,286.9 378.2,286.9 377.8,285.2 377.2,285.1 376.8,285.1 376.2,280.6 375.8,278.6 375.2,277.5 374.8,274.4 374.2,272.9 373.8,269 373.2,264.7 372.8,293.4 372.2,296.2 371.8,296.5 371.2,296.5 370.8,296.5 370.2,296.5 369.8,296.8 369.2,296.8 368.8,298.6 368.2,298.6 367.8,298.6 367.2,298.6 366.8,298.6 366.2,296.9 365.8,296.9 365.2,298.2 364.8,298.2 364.2,298.2 363.8,298.2 363.2,298.2 362.8,295.7 362.2,297.3 361.8,297.3 361.2,297.3 360.8,297.3 360.2,297.3 359.8,296.7 359.2,296.6 358.8,296.9 358.2,296.9 357.8,296.9 357.2,296.9 356.8,298.5 356.2,298.5 355.8,298.5 355.2,298.5 354.8,298.5 354.2,297.5 353.8,296.2 353.2,296.1 352.8,298.2 352.2,298.2 351.8,298.2 351.2,298.2 350.8,298.5 350.2,298.5 349.8,298.5 349.2,298.5 348.8,298.5 348.2,298.4 347.8,298.4 347.2,296.2 346.8,296 346.2,296 345.8,297.2 345.2,297.2 344.8,297.2 344.2,297.2 343.8,297.2 343.2,297.1 342.8,297.1 342.2,297.1 341.8,297.1 341.2,298.8 340.8,298.8 340.2,298.8 339.8,298.8 339.2,298.8 338.8,296.4 338.2,296.4 337.8,296.4 337.2,296.4 336.8,296.4 336.2,296.3 335.8,296.3 335.2,296.3 334.8,296.3 334.2,296.3 333.8,295.1 333.2,295.1 332.8,292.7 332.2,292.7 331.8,292.7 331.2,292 330.8,290.7 330.2,287.1 329.8,286.8 329.2,286.6 328.8,285.3 328.2,285.3 327.8,283.5 327.2,282.6 326.8,281.1 326.2,277.4 325.8,276.6 325.2,276.6 324.8,269.5 324.2,267.2 323.8,263.9 323.2,258.3 322.8,256.6 322.2,250.4 321.8,246.2 321.2,239.3 320.8,234.3 320.2,225.2 319.8,216.7 319.2,205.4 318.8,195.4 318.2,292.9 317.8,296.7 317.2,296.7 316.8,296.7 316.2,296.8 315.8,297.4 315.2,297.8 314.8,297.8 314.2,297.8 313.8,297.8 313.2,297.8 312.8,296.9 312.2,296.9 311.8,296.7 311.2,296.5 310.8,296.5 310.2,296.5 309.8,296.5 309.2,296.5 308.8,296.5 308.2,296.5 307.8,298.2 307.2,298.2 306.8,298.2 306.2,298.2 305.8,298.2 305.2,297.6 304.8,297.6 304.2,296.9 303.8,296.9 303.2,299.1 302.8,299.1 302.2,299.1 301.8,299.1 301.2,299.1 300.8,297.3 300.2,297.3 299.8,297.9 299.2,297.9 298.8,297.9 298.2,297.9 297.8,297.9 297.2,297.8 296.8,297.8 296.2,297.8 295.8,297.8 295.2,297.8 294.8,295.9 294.2,295.9 293.8,297.8 293.2,297.8 292.8,297.8 292.2,297.8 291.8,297.8 291.2,297.8 290.8,298.3 290.2,298.3 289.8,298.3 289.2,298.3 288.8,298.3 288.2,298.3 287.8,296.1 287.2,296.1 286.8,296.1 286.2,295.2 285.8,297.2 285.2,297.2 284.8,297.2 284.2,299.4 283.8,299.4 283.2,299.4 282.8,299.4 282.2,299.4 281.8,296.8 281.2,296.8 280.8,296.8 280.2,296.1 279.8,297.3 279.2,299.4 278.8,299.4 278.2,299.4 277.8,299.4 277.2,299.4 276.8,299.4 276.2,299 275.8,299 275.2,299 274.8,297.6 274.2,297.6 273.8,297.6 273.2,297.6 272.8,297.6 272.2,296.2 271.8,296.2 271.2,296.1 270.8,296 270.2,296 269.8,295.8 269.2,295.8 268.8,295.8 268.2,295.6 267.8,295.6 267.2,294.8 266.8,294.8 266.2,294 265.8,294.6 265.2,294.6 264.8,294.6 264.2,294.6 263.8,294.6 263.2,292.5 262.8,292.5 262.2,291.8 261.8,288.4 261.2,288.4 260.8,287.5 260.2,287.5 259.8,287.5 259.2,284.4 258.8,283.2 258.2,291.9 257.8,296.2 257.2,296.4 256.8,296.4 256.2,296.4 255.8,296.4 255.2,296.4 254.8,294.7 254.2,294.7 253.8,294.7 253.2,294.7 252.8,294.5 252.2,294.5 251.8,292.4 251.2,292.4 250.8,291.4 250.2,290.5 249.8,290.5 249.2,290.5 248.8,290.5 248.2,289.2 247.8,289.2 247.2,289.2 246.8,285.8 246.2,285.8 245.8,284 245.2,280.1 244.8,277.9 244.2,277.7 243.8,277.1 243.2,273.4 242.8,270.6 242.2,267.8 241.8,265 241.2,259.5 240.8,294.4 240.2,295.3 239.8,298.5 239.2,298.5 238.8,298.5 238.2,298.5 237.8,298.5 237.2,296.3 236.8,296.3 236.2,296.3 235.8,296.3 235.2,297.2 234.8,298.2 234.2,298.2 233.8,298.2 233.2,298.2 232.8,298.2 232.2,296.8 231.8,298.3 231.2,298.3 230.8,298.3 230.2,298.3 229.8,298.3 229.2,298.3 228.8,296 228.2,296 227.8,296 227.2,297.5 226.8,298.5 226.2,298.5 225.8,298.5 225.2,298.5 224.8,298.5 224.2,295.8 223.8,294.5 223.2,294.5 222.8,294.2 222.2,294.2 221.8,294.2 221.2,294.2 220.8,294.1 220.2,293.2 219.8,292.1 219.2,291 218.8,291 218.2,290.8 217.8,290.8 217.2,290.8 216.8,290.8 216.2,287.8 215.8,287.2 215.2,285 214.8,283.3 214.2,280.1 213.8,280.1 213.2,291.9 212.8,297.7 212.2,297.7 211.8,297.7 211.2,297.7 210.8,297.7 210.2,297.6 209.8,297.6 209.2,297.6 208.8,297.1 208.2,296.7 207.8,296.7 207.2,296.7 206.8,296.7 206.2,296.7 205.8,295.8 205.2,295.8 204.8,295.8 204.2,297.8 203.8,297.8 203.2,297.8 202.8,297.8 202.2,297.8 201.8,297.4 201.2,297.4 200.8,297.4 200.2,297.4 199.8,297.4 199.2,297.1 198.8,297.1 198.2,297.1 197.8,297.9 197.2,297.9 196.8,297.9 196.2,297.9 195.8,297.9 195.2,297.9 194.8,298.8 194.2,298.9 193.8,298.9 193.2,298.9 192.8,298.9 192.2,298.9 191.8,296.3 191.2,296.3 190.8,296.3 190.2,296.3 189.8,296.3 189.2,294.7 188.8,294.7 188.2,293.7 187.8,293.4 187.2,293.4 186.8,293.4 186.2,292.4 185.8,292.4 185.2,292.4 184.8,291.7 184.2,290.4 183.8,290 183.2,289.4 182.8,289 182.2,289 181.8,286.5 181.2,294.9 180.8,296.9 180.2,296.9 179.8,296.9 179.2,296.9 178.8,296.9 178.2,296.9 177.8,296.8 177.2,296.8 176.8,296.8 176.2,296.8 175.8,296.4 175.2,296.4 174.8,296.4 174.2,296.1 173.8,296.5 173.2,296.5 172.8,296.5 172.2,297.7 171.8,297.7 171.2,297.7 170.8,297.9 170.2,297.9 169.8,297.9 169.2,297.9 168.8,297.9 168.2,297.3 167.8,299 167.2,299 166.8,299 166.2,299 165.8,299 165.2,296.1 164.8,297.1 164.2,297.1 163.8,297.1" fill="#ff0000" stroke="#ff0000" stroke-width="0.3" stroke-linejoin="round"/>
<text x="163.5" y="346.2" font-size="30.5" text-anchor="middle" fill="#262626" class="sans">0</text>
<text x="355.5" y="346.2" font-size="30.5" text-anchor="middle" fill="#262626" class="sans">5</text>
<text x="547.5" y="346.2" font-size="30.5" text-anchor="middle" fill="#262626" class="sans">10</text>
<text x="739.5" y="346.2" font-size="30.5" text-anchor="middle" fill="#262626" class="sans">15</text>
<text x="931.5" y="346.2" font-size="30.5" text-anchor="middle" fill="#262626" class="sans">20</text>
<text x="154.8" y="302" font-size="30.5" text-anchor="end" fill="#262626" class="sans">0</text>
<text x="154.8" y="215.2" font-size="30.5" text-anchor="end" fill="#262626" class="sans">500</text>
<text x="154.8" y="128.5" font-size="30.5" text-anchor="end" fill="#262626" class="sans">1000</text>
<text x="154.8" y="41.8" font-size="30.5" text-anchor="end" fill="#262626" class="sans">1500</text>
<text transform="translate(547.6,388.7) scale(1.028,1)" font-size="33.5" text-anchor="middle" fill="#262626" class="sans">Time (ms)</text>
<text transform="translate(75.2,168.3) rotate(-90)" font-size="33.5" text-anchor="middle" fill="#262626" class="sans">Amplitude (eV)</text>
<rect x="212.6" y="47.9" width="217.9" height="117.7" fill="#fff"/>
<line x1="212.6" y1="47.4" x2="212.6" y2="166.1" stroke="#c0c0c0" stroke-width="1"/>
<line x1="430.5" y1="47.4" x2="430.5" y2="166.1" stroke="#808080" stroke-width="1"/>
<line x1="212.1" y1="47.9" x2="431" y2="47.9" stroke="#c0c0c0" stroke-width="1"/>
<line x1="212.1" y1="165.6" x2="431" y2="165.6" stroke="#c4c4c4" stroke-width="1"/>
<line x1="246.1" y1="165.6" x2="246.1" y2="163.1" stroke="#999" stroke-width="1"/>
<line x1="246.1" y1="47.9" x2="246.1" y2="50.4" stroke="#999" stroke-width="1"/>
<line x1="380.2" y1="165.6" x2="380.2" y2="163.1" stroke="#999" stroke-width="1"/>
<line x1="380.2" y1="47.9" x2="380.2" y2="50.4" stroke="#999" stroke-width="1"/>
<polyline points="212.6,153 212.8,156.7 212.9,155.6 213.1,152.9 213.3,153 213.4,154.7 213.6,154.8 213.8,153 213.9,156 214.1,154.1 214.3,154 214.4,153.6 214.6,155.5 214.8,155.2 214.9,155.3 215.1,155.5 215.3,155 215.5,153.9 215.6,152.1 215.8,156.2 216,153.2 216.1,155 216.3,155.4 216.5,154.6 216.6,153.5 216.8,155.8 217,154.3 217.1,152.1 217.3,155.7 217.5,156.5 217.6,156 217.8,154.8 218,153.1 218.1,153.9 218.3,154.1 218.5,154.9 218.6,152.9 218.8,152.4 219,157 219.1,155.9 219.3,157.6 219.5,154.5 219.6,155.5 219.8,155 220,154.4 220.1,156.1 220.3,154.2 220.5,155 220.7,154.9 220.8,154.7 221,153.1 221.2,154.5 221.3,153.5 221.5,156.8 221.7,155.7 221.8,153.3 222,154.3 222.2,153.8 222.3,154.1 222.5,154 222.7,153.6 222.8,152.3 223,156 223.2,156.7 223.3,155.4 223.5,155.1 223.7,157.8 223.8,154.3 224,156.6 224.2,155.9 224.3,155.2 224.5,155.1 224.7,155.4 224.8,155.5 225,155.3 225.2,157.4 225.3,152.1 225.5,154.5 225.7,152.8 225.9,154.8 226,154.4 226.2,155 226.4,152.4 226.5,156.7 226.7,152.3 226.9,153.8 227,153 227.2,157.1 227.4,157.3 227.5,155.2 227.7,155.5 227.9,154.3 228,156.2 228.2,154.4 228.4,155.4 228.5,158.2 228.7,156 228.9,155.3 229,153.3 229.2,150.9 229.4,158.5 229.5,154.3 229.7,152.4 229.9,156.7 230,154.5 230.2,156.6 230.4,154.8 230.5,156 230.7,156.2 230.9,157.8 231.1,154.9 231.2,153.4 231.4,157.9 231.6,156.6 231.7,154.7 231.9,157.7 232.1,157.9 232.2,155.2 232.4,151.4 232.6,156 232.7,155.4 232.9,155.2 233.1,155.3 233.2,157.1 233.4,155.2 233.6,152.8 233.7,154.6 233.9,155.5 234.1,153.7 234.2,154.9 234.4,152.9 234.6,156.3 234.7,152.5 234.9,156.7 235.1,154.6 235.2,157.2 235.4,152.6 235.6,154.2 235.7,155.5 235.9,154.5 236.1,155.8 236.3,153.4 236.4,154.9 236.6,155.1 236.8,155.8 236.9,151 237.1,154.2 237.3,154.9 237.4,155.4 237.6,156.2 237.8,153 237.9,154.7 238.1,154.7 238.3,153.3 238.4,153.9 238.6,154.9 238.8,153.9 238.9,152.5 239.1,152.7 239.3,154.6 239.4,153.5 239.6,157.4 239.8,156.5 239.9,154 240.1,156.6 240.3,154 240.4,155.7 240.6,155 240.8,154.4 240.9,156.5 241.1,155 241.3,152.7 241.5,156.6 241.6,153.7 241.8,156.1 242,154 242.1,154.9 242.3,154.7 242.5,151 242.6,152.8 242.8,154.4 243,156.4 243.1,153.4 243.3,154.5 243.5,156.5 243.6,156 243.8,153.5 244,156.5 244.1,154.4 244.3,154.8 244.5,155 244.6,154.6 244.8,155.1 245,153.2 245.1,156.7 245.3,154.5 245.5,153.9 245.6,155.5 245.8,157.4 246,152.9 246.1,153.1 246.3,156.9 246.5,157.9 246.7,152.5 246.8,156 247,154.2 247.2,154.1 247.3,155.1 247.5,157.7 247.7,156.1 247.8,154.7 248,154.4 248.2,156.5 248.3,153.3 248.5,155.4 248.7,156 248.8,156.5 249,155.4 249.2,157.2 249.3,155.4 249.5,156.5 249.7,153.2 249.8,155.8 250,156.3 250.2,156.3 250.3,153.8 250.5,155 250.7,153.9 250.8,156.1 251,154.1 251.2,157.7 251.3,151 251.5,156.8 251.7,74.4 251.9,74.4 252,73 252.2,75.7 252.4,79.1 252.5,75.8 252.7,75.6 252.9,79.5 253,78.7 253.2,76.8 253.4,79.1 253.5,80.1 253.7,77 253.9,79.9 254,81.9 254.2,79.1 254.4,81.6 254.5,83 254.7,79.5 254.9,82 255,80.2 255.2,83.2 255.4,84.9 255.5,84.3 255.7,83.6 255.9,84.9 256,81.4 256.2,83.9 256.4,85.9 256.5,85.8 256.7,82.9 256.9,85.3 257.1,85.1 257.2,88.2 257.4,86.9 257.6,85.4 257.7,85.7 257.9,89.9 258.1,88.4 258.2,88.2 258.4,89.3 258.6,92.7 258.7,90.6 258.9,90.2 259.1,90.3 259.2,90.3 259.4,91.3 259.6,92.9 259.7,92.2 259.9,92.7 260.1,92.6 260.2,93.4 260.4,92.4 260.6,93.9 260.7,96 260.9,91.8 261.1,93.6 261.2,93.3 261.4,94.4 261.6,92.8 261.7,93.6 261.9,94.4 262.1,96.2 262.3,97.1 262.4,95.2 262.6,99.4 262.8,98.5 262.9,96.6 263.1,98.2 263.3,102 263.4,99.2 263.6,98.4 263.8,99 263.9,99.6 264.1,96.2 264.3,99.9 264.4,101.2 264.6,101.8 264.8,101.6 264.9,99.2 265.1,97.8 265.3,101.3 265.4,102 265.6,101.5 265.8,101.4 265.9,102.7 266.1,104.2 266.3,104.6 266.4,104 266.6,105.2 266.8,104.3 266.9,102.6 267.1,102.9 267.3,104.9 267.5,104.4 267.6,103.9 267.8,107.4 268,107 268.1,107.1 268.3,109.3 268.5,105.2 268.6,108.2 268.8,107.9 269,109.2 269.1,105.4 269.3,110.4 269.5,108.2 269.6,109.1 269.8,107.1 270,111 270.1,109.6 270.3,112 270.5,111.3 270.6,110.5 270.8,110.3 271,108.6 271.1,111.4 271.3,108.3 271.5,112.5 271.6,108.5 271.8,110.7 272,110.2 272.1,110 272.3,110.8 272.5,110.6 272.7,114.4 272.8,113.4 273,112.8 273.2,116.6 273.3,116 273.5,114.9 273.7,114.1 273.8,112.7 274,116.9 274.2,112.1 274.3,117.3 274.5,114.5 274.7,116 274.8,115 275,113.2 275.2,117.4 275.3,114.6 275.5,116 275.7,117.3 275.8,116 276,118.5 276.2,115 276.3,118.3 276.5,118.3 276.7,115.5 276.8,115.5 277,118.9 277.2,118.6 277.3,121.2 277.5,119.1 277.7,120.1 277.9,117.7 278,120.1 278.2,120.6 278.4,117.9 278.5,119.4 278.7,121.9 278.9,121.1 279,87.2 279.2,89.9 279.4,90.2 279.5,90.8 279.7,92.9 279.9,91.6 280,91.9 280.2,91.1 280.4,91.8 280.5,92.6 280.7,92.6 280.9,95.2 281,96.6 281.2,93.4 281.4,96.4 281.5,93 281.7,94.6 281.9,99.1 282,95.8 282.2,96.8 282.4,96.2 282.5,96.1 282.7,95.6 282.9,99.3 283.1,96.1 283.2,98.8 283.4,99.5 283.6,99.3 283.7,97.9 283.9,98.8 284.1,98.1 284.2,98.3 284.4,102.1 284.6,97.4 284.7,102.2 284.9,103.6 285.1,104.3 285.2,102.2 285.4,101.6 285.6,103.2 285.7,101.4 285.9,102.8 286.1,103.5 286.2,101.6 286.4,102.8 286.6,104.8 286.7,103.1 286.9,104 287.1,103.6 287.2,102.2 287.4,106.4 287.6,106.8 287.7,107.8 287.9,106.4 288.1,104.9 288.3,105.8 288.4,102.6 288.6,108.1 288.8,107.3 288.9,107.7 289.1,108.6 289.3,107.9 289.4,105.5 289.6,109.6 289.8,108.7 289.9,108.8 290.1,107.7 290.3,108.4 290.4,107.6 290.6,105.7 290.8,111.2 290.9,111.6 291.1,110.2 291.3,110.3 291.4,110.1 291.6,109.6 291.8,112.5 291.9,111.8 292.1,111.2 292.3,111.1 292.4,115.4 292.6,111.8 292.8,113.3 292.9,114.4 293.1,114.9 293.3,111.2 293.5,114.6 293.6,116.6 293.8,115.6 294,114 294.1,113.8 294.3,115.4 294.5,113.3 294.6,113.3 294.8,119 295,115.2 295.1,113.3 295.3,116.2 295.5,116.7 295.6,117 295.8,118.6 296,118.1 296.1,119.1 296.3,115.8 296.5,115.6 296.6,113.8 296.8,120.1 297,119.9 297.1,117.7 297.3,116.6 297.5,118.3 297.6,120.7 297.8,118.7 298,119.3 298.1,119.6 298.3,116.1 298.5,118.9 298.7,121.8 298.8,120.9 299,120.4 299.2,122.4 299.3,122.8 299.5,121.9 299.7,122.4 299.8,121.4 300,122.7 300.2,121.6 300.3,120.5 300.5,118.2 300.7,120.7 300.8,119.4 301,121.8 301.2,122.2 301.3,122 301.5,122.4 301.7,122.7 301.8,122.8 302,121.6 302.2,123.8 302.3,125.8 302.5,123.5 302.7,124.9 302.8,121.6 303,124.1 303.2,122.8 303.3,124.6 303.5,123.5 303.7,126.6 303.9,125.2 304,124.6 304.2,125.3 304.4,125.3 304.5,124.7 304.7,124.2 304.9,126 305,128.4 305.2,125.6 305.4,127.7 305.5,126.7 305.7,126.9 305.9,128.7 306,123.2 306.2,126.5 306.4,127.1 306.5,127.1 306.7,129.1 306.9,129.4 307,128.9 307.2,129.3 307.4,126.4 307.5,130.8 307.7,127.5 307.9,128.1 308,129.3 308.2,126.5 308.4,129.1 308.5,128.9 308.7,130.8 308.9,128.5 309.1,133.4 309.2,126.9 309.4,130.7 309.6,129.6 309.7,131.1 309.9,129 310.1,130.7 310.2,132.9 310.4,134 310.6,129.8 310.7,132.2 310.9,133 311.1,130.9 311.2,130.7 311.4,130.6 311.6,130.2 311.7,134.5 311.9,132.3 312.1,132.4 312.2,133.2 312.4,131.7 312.6,131.5 312.7,134 312.9,131.9 313.1,132.1 313.2,131.4 313.4,132.3 313.6,135.8 313.7,133.8 313.9,135 314.1,133.2 314.3,133.1 314.4,135.6 314.6,135 314.8,134.9 314.9,133.7 315.1,132.2 315.3,137.4 315.4,134.4 315.6,135.9 315.8,134.6 315.9,134.5 316.1,132.9 316.3,136.2 316.4,134.2 316.6,134.4 316.8,134 316.9,136.8 317.1,136.8 317.3,136.1 317.4,136.2 317.6,135.8 317.8,135.8 317.9,133.4 318.1,136.8 318.3,136.9 318.4,137.4 318.6,139 318.8,136.8 318.9,134.2 319.1,138.5 319.3,137.2 319.5,136.2 319.6,137.8 319.8,138.9 320,136.3 320.1,135.5 320.3,135.6 320.5,134.8 320.6,138 320.8,134 321,138.5 321.1,137.1 321.3,137.5 321.5,139.7 321.6,136.6 321.8,140 322,141.4 322.1,137.1 322.3,136.8 322.5,134.9 322.6,139.4 322.8,137.8 323,137.8 323.1,140.5 323.3,137.8 323.5,140.5 323.6,138.7 323.8,139.5 324,137.1 324.2,137.6 324.3,138.3 324.5,141.1 324.7,139.3 324.8,139.4 325,136.4 325.2,139 325.3,139.3 325.5,135.4 325.7,138.8 325.8,142.2 326,137.3 326.2,144.1 326.3,139 326.5,140.3 326.7,141.1 326.8,140.3 327,140.1 327.2,140.4 327.3,143.6 327.5,142.9 327.7,142.9 327.8,140.8 328,140.3 328.2,140.2 328.3,138.3 328.5,139.5 328.7,143 328.8,143.7 329,141.6 329.2,142.3 329.4,142.9 329.5,138.7 329.7,140.7 329.9,143.2 330,141.8 330.2,142.8 330.4,143.6 330.5,143.6 330.7,138.9 330.9,141.9 331,142.6 331.2,141.6 331.4,143.4 331.5,140.4 331.7,140.6 331.9,140.2 332,146.1 332.2,140.8 332.4,145 332.5,143.6 332.7,142.5 332.9,143.4 333,143.4 333.2,143.6 333.4,144 333.5,142.6 333.7,140.8 333.9,143 334,145.6 334.2,141.6 334.4,141.2 334.6,144.7 334.7,142.8 334.9,143.7 335.1,141.3 335.2,144 335.4,146.4 335.6,144.3 335.7,145.6 335.9,143.6 336.1,145.3 336.2,144.1 336.4,146.4 336.6,142.8 336.7,145.1 336.9,145.4 337.1,145.8 337.2,143.4 337.4,142.8 337.6,142.1 337.7,144.2 337.9,146.6 338.1,144.1 338.2,146.6 338.4,145.2 338.6,147.9 338.7,143.6 338.9,143.8 339.1,146.4 339.2,144.8 339.4,143.9 339.6,145 339.8,146.7 339.9,145.5 340.1,142.9 340.3,145.4 340.4,145.8 340.6,146.7 340.8,147 340.9,143.8 341.1,145.5 341.3,146.4 341.4,144.9 341.6,147.7 341.8,146.7 341.9,145.6 342.1,143.6 342.3,147.2 342.4,146.1 342.6,145.5 342.8,147.6 342.9,145.1 343.1,147.7 343.3,146.5 343.4,147.4 343.6,142.9 343.8,149.1 343.9,145.5 344.1,146.5 344.3,144.4 344.4,144.3 344.6,149.8 344.8,147.6 345,146.2 345.1,147 345.3,148.1 345.5,145 345.6,146.1 345.8,147 346,146.6 346.1,146.6 346.3,148.2 346.5,144.4 346.6,146 346.8,145.3 347,147 347.1,146 347.3,148.4 347.5,148.2 347.6,147.1 347.8,148.8 348,145.6 348.1,145.5 348.3,149.1 348.5,147.5 348.6,147.7 348.8,146.8 349,147.1 349.1,149.4 349.3,148.4 349.5,145 349.6,146.8 349.8,147.9 350,149.7 350.2,144.2 350.3,148.4 350.5,147.3 350.7,146.8 350.8,148 351,147.4 351.2,151.5 351.3,147.9 351.5,150.8 351.7,147.1 351.8,150.7 352,148.2 352.2,145.6 352.3,149.7 352.5,147.2 352.7,149.2 352.8,149 353,149.4 353.2,149.3 353.3,147 353.5,148 353.7,149.8 353.8,148.4 354,148.8 354.2,149.7 354.3,149.4 354.5,148.1 354.7,147.8 354.8,147.9 355,147.6 355.2,148.6 355.4,148 355.5,147.5 355.7,145.8 355.9,148.5 356,149.2 356.2,150.3 356.4,150.5 356.5,148.2 356.7,151.4 356.9,149.5 357,151 357.2,147.7 357.4,148.9 357.5,148.5 357.7,148.9 357.9,148.6 358,149.9 358.2,147.6 358.4,151.8 358.5,149.9 358.7,150.7 358.9,148 359,146.1 359.2,150 359.4,152 359.5,149.6 359.7,149.1 359.9,147.7 360,148.7 360.2,148.9 360.4,149 360.6,151.1 360.7,149.6 360.9,148.3 361.1,147.4 361.2,146.6 361.4,149.9 361.6,149.3 361.7,148.9 361.9,147.9 362.1,152.4 362.2,150.3 362.4,149.4 362.6,149.8 362.7,151.3 362.9,150.1 363.1,150.8 363.2,148.6 363.4,151 363.6,150.2 363.7,151.3 363.9,151.3 364.1,150.2 364.2,152 364.4,150.1 364.6,150.2 364.7,148.6 364.9,150 365.1,150.7 365.2,149.6 365.4,151.3 365.6,149.7 365.8,152.4 365.9,150.4 366.1,150.7 366.3,150.1 366.4,150 366.6,151.5 366.8,149.4 366.9,147.5 367.1,149.5 367.3,151 367.4,150.5 367.6,152.3 367.8,150.4 367.9,151.1 368.1,149.6 368.3,152.8 368.4,148.8 368.6,151.5 368.8,151.7 368.9,151.5 369.1,151.4 369.3,150.6 369.4,155.2 369.6,151.3 369.8,150.2 369.9,150.5 370.1,150.1 370.3,152.1 370.4,149.3 370.6,152.6 370.8,151.7 371,151.4 371.1,153.3 371.3,153.3 371.5,151.1 371.6,153.1 371.8,151.6 372,151.6 372.1,151.9 372.3,153.9 372.5,151.9 372.6,149.4 372.8,150.4 373,149.9 373.1,149.8 373.3,152.6 373.5,152 373.6,150.2 373.8,150.5 374,150.2 374.1,150.8 374.3,155 374.5,150.6 374.6,150.8 374.8,154 375,152.6 375.1,149 375.3,150.7 375.5,151.1 375.6,151.9 375.8,153.4 376,152.6 376.2,151.6 376.3,152.1 376.5,154.4 376.7,153.5 376.8,151.9 377,151.3 377.2,152 377.3,153.6 377.5,150.2 377.7,152.3 377.8,153.3 378,154.4 378.2,151.6 378.3,152.1 378.5,155.2 378.7,155 378.8,153.8 379,150.2 379.2,149.2 379.3,151.7 379.5,153.9 379.7,151.6 379.8,149.8 380,152.7 380.2,152.1 380.3,150.6 380.5,151.8 380.7,152.7 380.8,154.1 381,151.5 381.2,151.2 381.4,150.8 381.5,151.8 381.7,154.8 381.9,148.5 382,154 382.2,153.4 382.4,151.3 382.5,153 382.7,153.3 382.9,152.7 383,152 383.2,153.4 383.4,152.2 383.5,154.8 383.7,149.6 383.9,152.3 384,153.1 384.2,152.3 384.4,149.8 384.5,155.2 384.7,151.8 384.9,153.5 385,152.7 385.2,150.1 385.4,151.5 385.5,153.9 385.7,152 385.9,152.2 386,153 386.2,148.8 386.4,153.2 386.6,154.2 386.7,152.3 386.9,154.3 387.1,152.7 387.2,154.1 387.4,154 387.6,152.2 387.7,147.8 387.9,151.4 388.1,153.8 388.2,151.3 388.4,152.9 388.6,151.4 388.7,153.7 388.9,152.5 389.1,151.8 389.2,153.6 389.4,153.5 389.6,153.9 389.7,152.8 389.9,154.7 390.1,151.1 390.2,151 390.4,153.6 390.6,154.3 390.7,152.9 390.9,154.7 391.1,153.1 391.2,153 391.4,153.9 391.6,153.7 391.8,151.3 391.9,153.4 392.1,150.1 392.3,152.3 392.4,154.3 392.6,152.7 392.8,149.3 392.9,152.9 393.1,152.1 393.3,150.9 393.4,154.1 393.6,152.7 393.8,154.2 393.9,153.8 394.1,153.3 394.3,154.6 394.4,153.5 394.6,152.1 394.8,152.6 394.9,155 395.1,153.3 395.3,151.3 395.4,152.6 395.6,153.6 395.8,153.5 395.9,153.7 396.1,154.9 396.3,152.8 396.4,154.3 396.6,153.7 396.8,154.2 397,152.4 397.1,154.9 397.3,152.4 397.5,153.7 397.6,154.7 397.8,155.7 398,152 398.1,154.4 398.3,154.8 398.5,153.2 398.6,153.1 398.8,152.8 399,155.5 399.1,152.6 399.3,152.8 399.5,152.1 399.6,155.3 399.8,152.3 400,152.3 400.1,153.1 400.3,152.5 400.5,154.8 400.6,153.3 400.8,154.3 401,152.7 401.1,152.7 401.3,154.4 401.5,154.5 401.6,153.4 401.8,153.5 402,151.5 402.2,151 402.3,151.7 402.5,154.5 402.7,154.8 402.8,152.1 403,153.1 403.2,154.3 403.3,152.7 403.5,154.6 403.7,154.6 403.8,149.3 404,155.2 404.2,153 404.3,155.4 404.5,152.9 404.7,153.4 404.8,154 405,153.9 405.2,155.7 405.3,155 405.5,151.5 405.7,154.7 405.8,153.2 406,154.3 406.2,152.2 406.3,154.1 406.5,154.1 406.7,150.9 406.8,157 407,154 407.2,152.5 407.4,152.4 407.5,150.4 407.7,155.3 407.9,153.4 408,154 408.2,154.3 408.4,152.1 408.5,151.9 408.7,152.7 408.9,154.6 409,152.6 409.2,153.6 409.4,152.9 409.5,152.9 409.7,152 409.9,154.2 410,155.5 410.2,153.1 410.4,152.3 410.5,151.9 410.7,153.7 410.9,155.4 411,156 411.2,153.5 411.4,153.1 411.5,154.4 411.7,154.7 411.9,152.5 412,155.6 412.2,152.2 412.4,150.7 412.6,152.8 412.7,155.3 412.9,152.1 413.1,154.5 413.2,154.3 413.4,153.4 413.6,154.2 413.7,154.2 413.9,158.3 414.1,153.9 414.2,152.1 414.4,154.4 414.6,155 414.7,156.3 414.9,153.8 415.1,154.4 415.2,154.1 415.4,153.9 415.6,153.8 415.7,154.7 415.9,154.1 416.1,153.6 416.2,155.9 416.4,151.8 416.6,155.4 416.7,153.5 416.9,153.7 417.1,155 417.2,153.9 417.4,152.3 417.6,151.9 417.8,153.7 417.9,153.5 418.1,156 418.3,153.4 418.4,156.4 418.6,152.4 418.8,154.5 418.9,154.6 419.1,152.3 419.3,153.2 419.4,155.6 419.6,153.7 419.8,152.3 419.9,153.3 420.1,153.6 420.3,152.2 420.4,156.9 420.6,153 420.8,154.1 420.9,155.8 421.1,154.8 421.3,156.7 421.4,153.3 421.6,153.6 421.8,156.2 421.9,152.7 422.1,155.1 422.3,154 422.4,155.4 422.6,153 422.8,153.9 423,154.3 423.1,154 423.3,157.5 423.5,154 423.6,151.9 423.8,154.3 424,151.6 424.1,154.8 424.3,155.2 424.5,155.6 424.6,155.8 424.8,155 425,155.4 425.1,154.9 425.3,155.9 425.5,154.4 425.6,154 425.8,153.7 426,155 426.1,154.2 426.3,155 426.5,154.5 426.6,154.2 426.8,153.1 427,151 427.1,155.5 427.3,153.3 427.5,155.1 427.6,153.8 427.8,154.4 428,152.5 428.2,152.9 428.3,151.4 428.5,154 428.7,156.1 428.8,153.9 429,154.1 429.2,154.3 429.3,155.3 429.5,153.1 429.7,156.6 429.8,152.7 430,151.6 430.2,158.1 430.3,154.6 430.5,151.6" fill="none" stroke="#ff0000" stroke-width="1.9" stroke-linejoin="round"/>
<line x1="212.6" y1="144.5" x2="430.5" y2="144.5" stroke="#585858" style="mix-blend-mode:multiply" stroke-width="1.6" stroke-dasharray="6.7,7.1"/>
<line x1="212.6" y1="154.5" x2="430.5" y2="154.5" stroke="#585858" style="mix-blend-mode:multiply" stroke-width="1.6" stroke-dasharray="6.7,7.1"/>
<line x1="251.5" y1="47.9" x2="251.5" y2="165.6" stroke="#505050" stroke-width="1.6"/>
<line x1="370.5" y1="47.9" x2="370.5" y2="165.6" stroke="#505050" stroke-width="1.6"/>
<text x="246.1" y="199.6" font-size="26.7" text-anchor="middle" fill="#262626" class="sans">17.8</text>
<text x="381" y="199.6" font-size="26.7" text-anchor="middle" fill="#262626" class="sans">18.2</text>
<text fill="#000" class="serif"><tspan x="-1.5" y="47.7" font-size="38.9" textLength="21.3" lengthAdjust="spacingAndGlyphs">a</tspan><tspan x="20.7" y="47.8" font-size="46.3" textLength="12.6" lengthAdjust="spacingAndGlyphs">)</tspan></text>
<rect x="163.5" y="430.5" width="767.8" height="277" fill="#fff"/>
<line x1="163.5" y1="430" x2="163.5" y2="708" stroke="#c4c4c4" stroke-width="1"/>
<line x1="931.3" y1="430" x2="931.3" y2="708" stroke="#c4c4c4" stroke-width="1"/>
<line x1="163" y1="430.5" x2="931.8" y2="430.5" stroke="#7a7a7a" stroke-width="1"/>
<line x1="163" y1="707.5" x2="931.8" y2="707.5" stroke="#a0a0a0" stroke-width="1"/>
<line x1="419.5" y1="707.5" x2="419.5" y2="699.8" stroke="#a8a8a8" stroke-width="1"/>
<line x1="419.5" y1="430.5" x2="419.5" y2="438.2" stroke="#a8a8a8" stroke-width="1"/>
<line x1="675.5" y1="707.5" x2="675.5" y2="699.8" stroke="#a8a8a8" stroke-width="1"/>
<line x1="675.5" y1="430.5" x2="675.5" y2="438.2" stroke="#a8a8a8" stroke-width="1"/>
<polyline points="165.6,665 176,664.8 180.3,664.3 182.5,662.5 184,659.6 185.3,658.7 187,659.6 189,661.5 191.7,664.5 195,665.5 198,665.8 202,665.3 205.6,664 208,664.8 210.7,665.5 219.6,665.5 224,664.6 227.2,663.7 229.5,664.8 232.2,665.5 241,665.5 244.9,664.5 247.4,665 249,663.5 251.2,661.4 253,661 255,659.4 256.3,661.5 257.6,664.5 259.5,665.8 261.4,666.3 265,665.8 267.7,663.7 270.2,663.2 272,665 274,666.3 279,666.8 284.2,667 286,666 287.5,664.3 289.2,662.5 291,662.3 293,662.7 294.6,661.5 296.1,660.7 297.5,661.8 298.9,663.2 301,666 303.2,668.3 305.5,669 308.2,669 310,668 312,665.8 313.3,663 314.6,659.4 315.9,654.5 317.1,650 318.1,653.5 319.1,658.2 320.2,659.5 321.4,662 322.4,666 323.5,669.6 326,670.8 329.8,670.8 331,672 332.3,673.9 333.8,675.2 335.4,675.9 337,675.6 338.7,674.6 340,672.8 341.2,669.6 342.1,664 343,655.6 343.8,644 344.7,635.3 345.5,640 346.3,646.7 347.8,647.5 348.7,657 349.6,668.3 350.4,674 351.3,677.2 353,679.6 355.1,681 358,682 362.7,682.5 416,682.5 418,681.5 419.5,679 420.5,676.2 421.4,675 422.5,676.5 423.6,679.5 425.2,682.2 428,682.8 434,682.9 435.8,682 437.4,680.6 438.6,682 439.9,683.1 443,682.9 445,681.5 446.5,677 447.7,670 448.8,664.1 449.8,670 451,677.6 452.5,681.5 454.3,683.9 457,684.8 459.4,685.2 461.5,684 463,680 464,677.2 465,676.3 466,678 467.2,681.5 468.8,685.9 471,687.2 473.4,687.7 491,688 493.5,687 495,685.8 496.2,685.2 497.5,686.3 498.7,687.7 502,688.1 516.4,688.2 519.5,687.2 521.5,685 523,682 524.5,680.9 525.6,682.5 526.6,686.4 528.5,688 530.4,688.5 541.8,688.7 562,688.2 587.4,687.5 597.5,687.2 602.6,688 607,687.6 610,687 611.5,686.4 612.6,684.5 613.9,681.4 614.5,665 615,645.4 615.5,645.4 615.9,665 616.6,683.9 618.2,687.5 619.1,689 621,689.9 622.9,690.2 625,689.8 626.7,689 628,687.2 629.6,683.9 630.2,650 630.7,597.7 631.2,597.7 631.7,650 632.3,683.9 634,688 635,690.2 636.5,691.3 638.1,691.8 645.7,691.8 660,692.1 670,690.9 681.8,690.7 688,689.8 692.8,689.4 698,689.9 703.7,690.2 714.6,690.2 716.4,690.6 717.9,691.6 719.7,693.5 721.4,695.7 723.2,697.2 725,697.8 726.7,697.4 728.2,696.2 729.4,694 730.4,690.2 731.1,680 731.8,665.6 732.3,600 732.7,536 733.4,536 733.8,610 734.3,672.5 734.9,672.5 735.3,600 735.8,440.5 736.3,440.5 736.9,556 737.5,640 738.1,679 739.1,698.4 740.2,701.8 741.3,703.8 743.5,705.3 746,706 755.5,706.5 875.6,706.5 883.8,707 889.3,706.5 890.3,704 891,698.4 892.4,698.4 893,703 893.6,698 894.2,686.1 895.5,686.1 896,698 896.5,705.2 898,706.5 900.2,707 931.5,707" fill="none" stroke="#000" stroke-width="2.2" stroke-linejoin="round"/>
<text x="163.5" y="746.6" font-size="30.5" text-anchor="middle" fill="#262626" class="sans">0</text>
<text x="419.5" y="746.6" font-size="30.5" text-anchor="middle" fill="#262626" class="sans">500</text>
<text x="675.5" y="746.6" font-size="30.5" text-anchor="middle" fill="#262626" class="sans">1000</text>
<text x="931.5" y="746.6" font-size="30.5" text-anchor="middle" fill="#262626" class="sans">1500</text>
<text transform="translate(548,788.6) scale(1.02,1)" font-size="33.5" text-anchor="middle" fill="#262626" class="sans">Electron Energy (eV)</text>
<text transform="translate(146.9,569.5) rotate(-90)" font-size="33.5" text-anchor="middle" fill="#262626" class="sans">Amplitude (a.u.)</text>
<rect x="183.1" y="443.9" width="296.9" height="119.4" fill="#fff"/>
<line x1="183.1" y1="443.4" x2="183.1" y2="563.8" stroke="#b4b4b4" stroke-width="1"/>
<line x1="480" y1="443.4" x2="480" y2="563.8" stroke="#b4b4b4" stroke-width="1"/>
<line x1="182.6" y1="443.9" x2="480.5" y2="443.9" stroke="#b8b8b8" stroke-width="1"/>
<line x1="182.6" y1="563.3" x2="480.5" y2="563.3" stroke="#c4c4c4" stroke-width="1"/>
<line x1="232.6" y1="563.3" x2="232.6" y2="560.3" stroke="#999" stroke-width="1"/>
<line x1="232.6" y1="443.9" x2="232.6" y2="446.9" stroke="#999" stroke-width="1"/>
<line x1="331.5" y1="563.3" x2="331.5" y2="560.3" stroke="#999" stroke-width="1"/>
<line x1="331.5" y1="443.9" x2="331.5" y2="446.9" stroke="#999" stroke-width="1"/>
<line x1="430.5" y1="563.3" x2="430.5" y2="560.3" stroke="#999" stroke-width="1"/>
<line x1="430.5" y1="443.9" x2="430.5" y2="446.9" stroke="#999" stroke-width="1"/>
<polyline points="183.5,558.2 195,558.6 210,558.9 232,558.9 255,558.6 275,558.1 290,557.5 300,556.9 310,556.2 320,555.3 327,553.6 333.3,551 340.2,543.5 347.3,523.7 355.3,487.2 362.7,493 369.7,533.1 377.2,545.2 384.3,548.2 391.3,545.2 398.7,533.1 405.8,497.1 413.1,445 420.2,478.9 427.4,530.8 434.7,547.7 441.8,553.8 449.2,557.3 455,558.6 460.8,559.6 470,560.6 480.3,561.4" fill="none" stroke="#000" stroke-width="2" stroke-linejoin="round"/>
<text x="233.2" y="597.3" font-size="26.7" text-anchor="middle" fill="#262626" class="sans">1100</text>
<text x="332.1" y="597.3" font-size="26.7" text-anchor="middle" fill="#262626" class="sans">1110</text>
<text x="431.1" y="597.3" font-size="26.7" text-anchor="middle" fill="#262626" class="sans">1120</text>
<text fill="#000" class="serif"><tspan x="-0.3" y="447.9" font-size="41" textLength="22.3" lengthAdjust="spacingAndGlyphs">b</tspan><tspan x="23" y="448.7" font-size="46.3" textLength="12.6" lengthAdjust="spacingAndGlyphs">)</tspan></text>
<rect x="163.5" y="831.5" width="767.8" height="277.5" fill="#fff"/>
<line x1="163.5" y1="831" x2="163.5" y2="1109.5" stroke="#c4c4c4" stroke-width="1"/>
<line x1="931.3" y1="831" x2="931.3" y2="1109.5" stroke="#c4c4c4" stroke-width="1"/>
<line x1="163" y1="831.5" x2="931.8" y2="831.5" stroke="#888888" stroke-width="1"/>
<line x1="163" y1="1109" x2="931.8" y2="1109" stroke="#a0a0a0" stroke-width="1"/>
<line x1="419.5" y1="1109" x2="419.5" y2="1101.3" stroke="#a8a8a8" stroke-width="1"/>
<line x1="419.5" y1="831.5" x2="419.5" y2="839.2" stroke="#a8a8a8" stroke-width="1"/>
<line x1="675.5" y1="1109" x2="675.5" y2="1101.3" stroke="#a8a8a8" stroke-width="1"/>
<line x1="675.5" y1="831.5" x2="675.5" y2="839.2" stroke="#a8a8a8" stroke-width="1"/>
<line x1="163.5" y1="1016.5" x2="171.2" y2="1016.5" stroke="#a8a8a8" stroke-width="1"/>
<line x1="931.5" y1="1016.5" x2="923.8" y2="1016.5" stroke="#a8a8a8" stroke-width="1"/>
<line x1="163.5" y1="924" x2="171.2" y2="924" stroke="#a8a8a8" stroke-width="1"/>
<line x1="931.5" y1="924" x2="923.8" y2="924" stroke="#a8a8a8" stroke-width="1"/>
<polyline points="173.2,1059.7 173.7,1064.9 174.3,1067.4 174.8,1060.4 175.3,1058.3 175.8,1066.5 176.3,1056.6 176.8,1069 177.3,1057.1 177.8,1061.7 178.3,1053.8 178.9,1061.1 179.4,1056.5 179.9,1063.8 180.4,1061.3 180.9,1060.1 181.4,1060.4 181.9,1054.6 182.4,1066.1 183,1065 183.5,1054.8 184,1051.1 184.5,1055 185,1059 185.5,1053 186,1051.7 186.5,1052.7 187.1,1054.8 187.6,1049.3 188.1,1050.8 188.6,1056.4 189.1,1057.4 189.6,1059.5 190.1,1053.4 190.6,1060.7 191.1,1057.2 191.7,1053.1 192.2,1062.5 192.7,1061.5 193.2,1068.7 193.7,1053.3 194.2,1063 194.7,1062.3 195.2,1061.1 195.8,1061.7 196.3,1066 196.8,1055.5 197.3,1060.7 197.8,1062.3 198.3,1058.6 198.8,1060 199.3,1064.1 199.9,1060 200.4,1064.6 200.9,1055.3 201.4,1062.3 201.9,1067.6 202.4,1062.7 202.9,1064.1 203.4,1061.2 203.9,1050.8 204.5,1066.8 205,1060.1 205.5,1061.3 206,1055.2 206.5,1068.6 207,1057.2 207.5,1061.7 208,1068.3 208.6,1060.9 209.1,1064.4 209.6,1061.5 210.1,1059.3 210.6,1053.8 211.1,1060.4 211.6,1065.5 212.1,1059 212.7,1064 213.2,1065.1 213.7,1062.6 214.2,1059.4 214.7,1058.8 215.2,1067.3 215.7,1059.4 216.2,1062.4 216.7,1057.7 217.3,1067.2 217.8,1061.7 218.3,1058.6 218.8,1060.8 219.3,1058 219.8,1065.9 220.3,1057.9 220.8,1057.1 221.4,1061.9 221.9,1061.3 222.4,1060.4 222.9,1063.3 223.4,1061.2 223.9,1063.6 224.4,1060.8 224.9,1055.2 225.5,1058.6 226,1061 226.5,1058.4 227,1062.8 227.5,1061 228,1065.4 228.5,1062.7 229,1057 229.5,1054.1 230.1,1061.4 230.6,1060.2 231.1,1059.5 231.6,1059.9 232.1,1064.8 232.6,1058.6 233.1,1059.2 233.6,1063.5 234.2,1062 234.7,1065.3 235.2,1058.2 235.7,1062.6 236.2,1058.1 236.7,1064.3 237.2,1057.5 237.7,1062.3 238.3,1055.6 238.8,1062.9 239.3,1059.7 239.8,1056.1 240.3,1059.8 240.8,1066.5 241.3,1065 241.8,1057.2 242.3,1068 242.4,1050.5 243.3,1050.5 243.4,1064.6 243.9,1055 244.4,1067.9 244.9,1051.8 245.4,1054 245.9,1060.4 246.4,1052.9 247,1063 247.5,1059 248,1055 248.5,1065.1 249,1055.5 249.5,1057.3 250,1055.1 250.5,1055.3 251.1,1059.1 251.6,1065 252.1,1057.4 252.6,1058.3 253.1,1054.9 253.6,1068.4 254.1,1056.6 254.6,1057.8 255.1,1054.5 255.7,1055.6 256.2,1057.7 256.7,1059.9 257.2,1060.5 257.7,1062.7 258.2,1066.6 258.7,1060.6 259.2,1062.9 259.8,1057.7 260.3,1058.6 260.8,1067 261.3,1063 261.8,1065.6 262.3,1060.2 262.8,1062.2 263.3,1060.7 263.9,1056 264.4,1066.6 264.9,1054.7 265.4,1058.7 265.9,1062.7 266.4,1063.6 266.9,1068.4 267.4,1059.6 267.9,1053.1 268.5,1056.4 269,1058.4 269.5,1058.6 270,1059.4 270.5,1059.2 271,1054.4 271.5,1062.2 272,1054.7 272.6,1066.9 273.1,1057.7 273.6,1066.2 274.1,1058.7 274.6,1059.7 275.1,1061.9 275.6,1064.7 276.1,1066.7 276.7,1070.5 277.2,1058.9 277.7,1068.6 278.2,1062 278.7,1067.9 279.2,1062.3 279.7,1068.5 280.2,1059.6 280.7,1067 281.3,1061.7 281.8,1066.8 282.3,1065.7 282.8,1063.7 283.3,1058.9 283.8,1064 284.3,1060 284.8,1062.2 285.4,1053.6 285.9,1060.2 286.4,1065.6 286.9,1059 287.4,1061.7 287.9,1060.6 288.4,1058.7 288.9,1056.8 289.5,1059.3 290,1056.2 290.5,1062.1 291,1057.6 291.5,1057 292,1062 292.5,1061.2 293,1055.1 293.5,1064.9 294.1,1060.6 294.6,1057.1 295.1,1056.4 295.6,1053.3 296.1,1054.2 296.6,1053.9 297.1,1054.8 297.6,1068 298.2,1055 298.7,1058.2 299.2,1057.1 299.7,1061.5 300.2,1054.6 300.7,1059.8 301.2,1057.2 301.7,1064.1 302.3,1058.4 302.8,1063.4 303.3,1066.3 303.8,1065.5 304.3,1062 304.8,1068.6 305.3,1064.5 305.8,1071.8 306.3,1069.1 306.9,1063.8 307.4,1063.3 307.9,1068.4 308.4,1067.5 308.9,1067.2 309.4,1058 309.9,1058 310.4,1059.1 311,1059.3 311.5,1062.1 312,1061.2 312.5,1065.1 313,1049.8 313.5,1054.4 314,1055.7 314.5,1056.5 315.1,1059.6 315.6,1062.5 316.1,1051.6 316.6,1054.4 317.1,1044.1 317.6,1048.4 318.1,1056.6 318.6,1058.2 319.1,1054.7 319.7,1054.9 320.2,1052.1 320.7,1054 321.2,1061.3 321.7,1063.8 322.2,1064.8 322.7,1061.8 323.2,1069.4 323.8,1065.4 324.3,1069.7 324.8,1066.6 325.3,1072.7 325.8,1067.1 326.3,1070.2 326.8,1065 327.3,1067 327.9,1063.8 328.4,1073.9 328.9,1066.3 329.4,1066.9 329.9,1071.1 330.4,1065.4 330.9,1070.7 331.4,1073.8 331.9,1070.7 332.5,1068.6 333,1073 333.5,1073.9 334,1073.1 334.5,1070.4 335,1074.8 335.5,1074.7 336,1070.4 336.6,1073.5 337.1,1075.8 337.6,1076.9 338.1,1078.9 338.6,1065.6 339.1,1068.2 339.6,1074.2 340.1,1071.3 340.7,1068.3 341.2,1063.8 341.7,1063.7 342.2,1055.4 342.7,1049.9 343.2,1037.9 343.7,1032.5 344.2,1033 344.7,1018.6 345.3,1020.8 345.8,1032.3 346.3,1034.2 346.8,1033.4 347.3,1045.8 347.8,1035.1 348.3,1040.7 348.8,1046.1 349.4,1053.9 349.9,1072.8 350.4,1075 350.9,1072.5 351.4,1074.3 351.9,1079.5 352.4,1077.5 352.9,1082.6 353.5,1075.9 354,1081.8 354.5,1080.9 355,1079.9 355.5,1079.9 356,1081.9 356.5,1076.1 357,1079.1 357.5,1080.4 358.1,1080 358.6,1080.4 359.1,1085.4 359.6,1084.3 360.1,1077.3 360.6,1084.2 361.1,1082.8 361.6,1080.6 362.2,1082.7 362.7,1082 363.2,1078.2 363.7,1081.9 364.2,1085.4 364.7,1082.5 365.2,1077.4 365.7,1076.4 366.3,1078.3 366.8,1078.7 367.3,1080.1 367.8,1081.4 368.3,1085.9 368.8,1081.3 369.3,1082.1 369.8,1081.2 370.3,1082.2 370.9,1081.5 371.4,1080.8 371.9,1076.1 372.4,1083.9 372.9,1081.9 373.4,1077.7 373.9,1085.6 374.4,1081 375,1082 375.5,1081 376,1081 376.5,1080.1 377,1081.9 377.5,1085.7 378,1081.1 378.5,1081.8 379.1,1077.9 379.6,1080.1 380.1,1080.4 380.6,1085.9 381.1,1090.8 381.6,1078 382.1,1081.3 382.6,1082.9 383.1,1091.6 383.7,1081.7 384.2,1084.2 384.7,1088.8 385.2,1080.6 385.7,1083 386.2,1080.6 386.7,1079.5 387.2,1078.3 387.8,1077 388.3,1084.4 388.8,1081.4 389.3,1083.2 389.8,1082.2 390.3,1083 390.8,1082.4 391.3,1084.3 391.9,1079.5 392.4,1084.9 392.9,1087.2 393.4,1083.3 393.9,1080.6 394.4,1081.7 394.9,1085.7 395.4,1085.7 395.9,1082 396.5,1078.4 397,1082.5 397.5,1082.4 398,1080.9 398.5,1084.5 399,1087.6 399.5,1078.8 400,1084.6 400.6,1080.4 401.1,1079.4 401.6,1082.1 402.1,1083.1 402.6,1081.6 403.1,1083.8 403.6,1080.8 404.1,1080.4 404.7,1083.7 405.2,1079.6 405.7,1080.5 406.2,1085.1 406.7,1079.1 407.2,1080.2 407.7,1078.4 408.2,1083.1 408.7,1086.8 409.3,1081.3 409.8,1087.4 410.3,1080.6 410.8,1083.4 411.3,1083.7 411.8,1082.1 412.3,1084 412.8,1086.3 413.4,1083.6 413.9,1080.9 414.4,1080.3 414.9,1083 415.4,1085 415.9,1081.7 416.4,1081 416.9,1079.1 417.5,1078 418,1084.5 418.5,1078.3 419,1077.3 419.5,1076.2 420,1078.1 420.5,1074.3 421,1069.7 421.5,1073 422.1,1070 422.6,1076.2 423.1,1076.8 423.6,1080 424.1,1075.6 424.6,1075.1 425.1,1082 425.6,1080.7 426.2,1082.4 426.7,1078.1 427.2,1085 427.7,1080.6 428.2,1080 428.7,1082.3 429.2,1084 429.7,1083 430.3,1081.3 430.8,1081.2 431.3,1083.8 431.8,1081.4 432.3,1084.9 432.8,1084.3 433.3,1083.8 433.8,1083.7 434.3,1084.4 434.9,1079.6 435.4,1080.8 435.9,1080.1 436.4,1083.4 436.9,1080.6 437.4,1081.4 437.9,1077.7 438.4,1079.5 439,1078.7 439.5,1080.7 440,1081.2 440.5,1085.6 441,1083.4 441.5,1085.3 442,1082.9 442.5,1081.2 443.1,1085.9 443.6,1082.3 444.1,1079.3 444.6,1082.3 445.1,1080 445.6,1078.3 446.1,1076.5 446.6,1069.8 447.1,1069.7 447.7,1064.1 448.2,1064.8 448.7,1060.9 449.2,1062.8 449.7,1063.7 450.2,1065.4 450.7,1071.9 451.2,1075.6 451.8,1074.2 452.3,1075.8 452.8,1078.9 453.3,1078.9 453.8,1087.4 454.3,1083.6 454.8,1083.1 455.3,1084 455.9,1082.9 456.4,1083.9 456.9,1086.3 457.4,1079.7 457.9,1085.9 458.4,1082.9 458.9,1082.1 459.4,1082.6 459.9,1084 460.5,1079.1 461,1084.3 461.5,1082 462,1080.5 462.5,1074.1 463,1079.1 463.5,1070.5 464,1069 464.6,1070 465.1,1065.6 465.6,1066.1 466.1,1074.3 466.6,1072.5 467.1,1074.9 467.6,1075.9 468.1,1088 468.7,1081.8 469.2,1093 469.7,1086.9 470.2,1081.6 470.7,1082.1 471.2,1084.5 471.7,1087 472.2,1085.7 472.7,1085.7 473.3,1087.8 473.8,1085.7 474.3,1084.2 474.8,1088.1 475.3,1086 475.8,1086.7 476.3,1088 476.8,1084 477.4,1089.3 477.9,1084.5 478.4,1088.3 478.9,1091.2 479.4,1085.9 479.9,1084.5 480.4,1086.1 480.9,1085.7 481.5,1085.5 482,1085.6 482.5,1090.1 483,1089.2 483.5,1089.4 484,1087.3 484.5,1084.3 485,1085.9 485.5,1085.1 486.1,1087.3 486.6,1082.2 487.1,1087.8 487.6,1084.8 488.1,1087.2 488.6,1090.3 489.1,1089.8 489.6,1085.5 490.2,1088 490.7,1085.9 491.2,1085.8 491.7,1089.2 492.2,1089.7 492.7,1089.1 493.2,1087.1 493.7,1081.9 494.3,1086.5 494.8,1086.8 495.3,1084.9 495.8,1086.6 496.3,1079.5 496.8,1087.1 497.3,1083.3 497.8,1085.7 498.3,1088.8 498.9,1083.4 499.4,1086.3 499.9,1082.2 500.4,1086.9 500.9,1084.5 501.4,1087 501.9,1084.4 502.4,1083.8 503,1089.6 503.5,1088.5 504,1084.2 504.5,1085.7 505,1084.8 505.5,1085.8 506,1087.3 506.5,1089.1 507.1,1088.6 507.6,1085.1 508.1,1087.8 508.6,1091.1 509.1,1087.3 509.6,1087.6 510.1,1090 510.6,1085.9 511.1,1085 511.7,1088.4 512.2,1085.6 512.7,1086.1 513.2,1084.9 513.7,1084.3 514.2,1087.8 514.7,1087.5 515.2,1085.8 515.8,1083.8 516.3,1084.5 516.8,1085.7 517.3,1085.3 517.8,1086.9 518.3,1085 518.8,1084.6 519.3,1086.3 519.9,1083 520.4,1083.1 520.9,1081 521.4,1081.8 521.9,1087.9 522.4,1079.3 522.9,1076.5 523.4,1081.1 523.9,1077.1 524.5,1077.4 525,1080.1 525.5,1078.1 526,1083.9 526.5,1087.1 527,1084.5 527.5,1089.1 528,1086.9 528.6,1087.1 529.1,1086.1 529.6,1091.5 530.1,1088.9 530.6,1088.1 531.1,1091.1 531.6,1086.8 532.1,1086 532.7,1087.1 533.2,1087.2 533.7,1087.6 534.2,1087.3 534.7,1088.8 535.2,1088.1 535.7,1089.5 536.2,1083.4 536.7,1083.7 537.3,1085.4 537.8,1088.2 538.3,1090.1 538.8,1091.7 539.3,1087.7 539.8,1085.9 540.3,1088.2 540.8,1083.6 541.4,1084 541.9,1085.5 542.4,1086.5 542.9,1091.8 543.4,1090.4 543.9,1086.9 544.4,1088.6 544.9,1085.8 545.5,1087.4 546,1087.9 546.5,1086.2 547,1084.4 547.5,1087.8 548,1084.4 548.5,1092.4 549,1084 549.5,1085.6 550.1,1087.2 550.6,1081.7 551.1,1088 551.6,1085.1 552.1,1086.9 552.6,1086.5 553.1,1085.8 553.6,1088.1 554.2,1086.5 554.7,1089.4 555.2,1088.1 555.7,1090.5 556.2,1082.4 556.7,1089.5 557.2,1087.4 557.7,1087.1 558.3,1081.6 558.8,1087.6 559.3,1086.1 559.8,1084.9 560.3,1085 560.8,1087.6 561.3,1086.5 561.8,1088.5 562.3,1086 562.9,1085.5 563.4,1088.6 563.9,1081.5 564.4,1085.3 564.9,1084.3 565.4,1086.9 565.9,1087.1 566.4,1085.6 567,1088.9 567.5,1091.4 568,1091.5 568.5,1085.2 569,1087.2 569.5,1084.8 570,1085.8 570.5,1085.6 571.1,1086 571.6,1084.2 572.1,1084.5 572.6,1085.5 573.1,1082.3 573.6,1088.5 574.1,1085.7 574.6,1086.2 575.1,1083.1 575.7,1087.5 576.2,1085.8 576.7,1083.8 577.2,1087.2 577.7,1087.7 578.2,1085.4 578.7,1087.4 579.2,1087.7 579.8,1087.4 580.3,1087.9 580.8,1087.7 581.3,1081.9 581.8,1087.1 582.3,1083 582.8,1087.8 583.3,1085.9 583.9,1084.7 584.4,1089.1 584.9,1083.8 585.4,1092 585.9,1082.4 586.4,1086.6 586.9,1084.5 587.4,1084.7 587.9,1087.3 588.5,1083.4 589,1085.6 589.5,1083 590,1082.9 590.5,1083.8 591,1088.6 591.5,1081.3 592,1089.5 592.6,1086.2 593.1,1081.7 593.6,1089.2 594.1,1089.7 594.6,1086.6 595.1,1084.1 595.6,1088.6 596.1,1088.4 596.7,1086.1 597.2,1083.4 597.7,1083.1 598.2,1083.5 598.7,1088.4 599.2,1082.5 599.7,1089.7 600.2,1085.1 600.7,1088.3 601.3,1085.6 601.8,1088.4 602.3,1085.6 602.8,1088.8 603.3,1085 603.8,1083.5 604.3,1085.2 604.8,1087.2 605.4,1086.6 605.9,1087.7 606.4,1086.1 606.9,1083.9 607.4,1088.5 607.9,1089.8 608.4,1079.4 608.9,1085 609.5,1087.2 610,1086.3 610.5,1084.7 611,1085.2 611.5,1087.5 612,1084.3 612.5,1083.3 613,1078.7 613.5,1084.8 614.1,1069.6 614.6,1053.9 615.1,1048.6 615.6,1053 616.1,1080.1 616.6,1079.2 617.1,1079.3 617.6,1086.6 618.2,1088.8 618.7,1088.6 619.2,1086.1 619.7,1088.4 620.2,1088.6 620.7,1081 621.2,1089 621.7,1091.8 622.3,1088.9 622.8,1090.2 623.3,1089.4 623.8,1093.9 624.3,1085.9 624.8,1088.4 625.3,1086.5 625.8,1089.3 626.3,1088.7 626.9,1081.8 627.4,1087.9 627.9,1085.3 628.4,1083.6 628.9,1085.1 629.4,1079.1 629.9,1050.5 630.4,1001 631,993.1 631.5,1002 632,1054.6 632.5,1087.2 633,1084.1 633.5,1084.3 634,1085.7 634.5,1087.5 635.1,1086 635.6,1090.1 636.1,1086.4 636.6,1086.6 637.1,1090.3 637.6,1086.6 638.1,1088.6 638.6,1088 639.1,1090.7 639.7,1090.6 640.2,1092.6 640.7,1091.7 641.2,1089.1 641.7,1090.6 642.2,1092.3 642.7,1091.5 643.2,1093.2 643.8,1090.9 644.3,1089.7 644.8,1093.3 645.3,1093.3 645.8,1092.9 646.3,1092.1 646.8,1094.3 647.3,1093.6 647.9,1091.4 648.4,1089.3 648.9,1089.7 649.4,1090.5 649.9,1089.3 650.4,1090.8 650.9,1091.3 651.4,1087.7 651.9,1091.7 652.5,1090.8 653,1093.6 653.5,1092.5 654,1092.9 654.5,1090.9 655,1092.9 655.5,1089.4 656,1093.7 656.6,1089.6 657.1,1092.2 657.6,1092.7 658.1,1091.8 658.6,1092.6 659.1,1094.2 659.6,1087.1 660.1,1090.9 660.7,1091.1 661.2,1097.1 661.7,1089.5 662.2,1088.5 662.7,1091.9 663.2,1093.3 663.7,1086.5 664.2,1094.2 664.7,1089 665.3,1093.7 665.8,1091.1 666.3,1088.2 666.8,1092.9 667.3,1092.1 667.8,1092.9 668.3,1088.4 668.8,1090.2 669.4,1088.3 669.9,1091.1 670.4,1088.7 670.9,1089 671.4,1092.2 671.9,1086.2 672.4,1095.8 672.9,1088.8 673.5,1087.3 674,1090.8 674.5,1090 675,1089.6 675.5,1095 676,1090.4 676.5,1090.1 677,1089.1 677.5,1089.2 678.1,1094.7 678.6,1090.2 679.1,1090 679.6,1089.8 680.1,1087 680.6,1095 681.1,1092 681.6,1089.6 682.2,1089.4 682.7,1087.5 683.2,1088.1 683.7,1089 684.2,1090.1 684.7,1088.6 685.2,1089.9 685.7,1087.6 686.3,1089.5 686.8,1089.9 687.3,1088.7 687.8,1086.4 688.3,1088.6 688.8,1089.9 689.3,1090.2 689.8,1088.8 690.3,1087.2 690.9,1087.9 691.4,1084.6 691.9,1084 692.4,1083 692.9,1085.6 693.4,1088.5 693.9,1089.6 694.4,1088.9 695,1090.5 695.5,1093.7 696,1083.5 696.5,1085.3 697,1086.3 697.5,1090.7 698,1091 698.5,1084.4 699.1,1090.7 699.6,1090 700.1,1087.3 700.6,1091 701.1,1090.7 701.6,1092.4 702.1,1087.9 702.6,1084.9 703.1,1087.9 703.7,1086.4 704.2,1088.1 704.7,1091.5 705.2,1088.6 705.7,1087 706.2,1088.3 706.7,1086.4 707.2,1088.8 707.8,1093.4 708.3,1087.9 708.8,1088.9 709.3,1087.3 709.8,1090.9 710.3,1084.8 710.8,1086.2 711.3,1086.8 711.9,1091.1 712.4,1091.3 712.9,1087.7 713.4,1086.6 713.9,1087.1 714.4,1086.7 714.9,1089.9 715.4,1088.5 715.9,1092.7 716.5,1091.7 717,1091 717.5,1091.5 718,1088.3 718.5,1090.5 719,1091 719.5,1094.9 720,1097.2 720.6,1093.2 721.1,1096.5 721.6,1092.7 722.1,1096.3 722.6,1096 723.1,1099.9 723.6,1097.4 724.1,1098 724.7,1097.1 725.2,1097.3 725.7,1098.6 726.2,1097.6 726.7,1099.7 727.2,1095 727.7,1094.2 728.2,1097.3 728.7,1094.3 729.3,1091.4 729.8,1091 730.3,1088.7 730.8,1087.3 730.9,1084.6 731.1,1084.3 731.2,1084.2 731.3,1077.1 731.4,1077.1 731.6,1077.1 731.7,1077.1 731.8,1074 731.9,1065.2 732.1,1053.2 732.2,1038.9 732.3,1020.2 732.5,994.3 732.6,964.6 732.7,945.2 732.8,929 733,923.8 733.1,923.8 733.2,923.8 733.4,923.8 733.5,923.8 733.6,936 733.7,955.5 733.9,982.6 734,1012.9 734.1,1038.7 734.3,1054 734.4,1066.2 734.5,1066.2 734.6,1063.4 734.8,1060.1 734.9,1051.3 735,1037.2 735.1,1016.8 735.3,985.1 735.4,951.8 735.5,893.1 735.7,862.3 735.8,854.5 735.9,854.5 736,854.5 736.2,854.5 736.3,854.5 736.4,865.2 736.6,891.8 736.7,909.9 736.8,952.2 736.9,995.2 737.1,1020.8 737.2,1038.7 737.3,1057.4 737.5,1068.5 737.6,1074.2 737.7,1083.9 737.8,1086.1 738,1090.9 738.1,1090.9 738.2,1090.9 738.3,1093.6 738.5,1095.8 738.6,1095.9 738.7,1097.6 738.9,1097.6 739,1097.6 739.1,1097.6 739.2,1097.6 739.4,1099.1 739.5,1100.5 740,1097.2 740.5,1102.1 741,1103.6 741.5,1105.4 742.1,1104 742.6,1104.8 743.1,1108.1 743.6,1106.7 744.1,1105.6 744.6,1105.9 745.1,1107.7 745.6,1108.4 746.2,1107.5 746.7,1107.1 747.2,1108.5 747.7,1107.9 748.2,1107.3 748.7,1107.3 749.2,1108 749.7,1107.3 750.3,1106.3 750.8,1108.3 751.3,1107.9 751.8,1109 752.3,1107.8 752.8,1107.2 753.3,1107.7 753.8,1108.9 754.3,1107.2 754.9,1107.7 755.4,1107.6 755.9,1107.8 756.4,1108.3 756.9,1107.4 757.4,1107.4 757.9,1108.2 758.4,1107.9 759,1107.6 759.5,1108.3 760,1107.6 760.5,1107.7 761,1108.1 761.5,1108.5 762,1107 762.5,1108.7 763.1,1107.8 763.6,1107.4 764.1,1107.1 764.6,1107.2 765.1,1108.6 765.6,1107 766.1,1107.5 766.6,1108.7 767.1,1108.1 767.7,1108.3 768.2,1107.7 768.7,1108 769.2,1108.6 769.7,1106.8 770.2,1107.7 770.7,1107.4 771.2,1109 771.8,1107.6 772.3,1106.8 772.8,1107.9 773.3,1107.8 773.8,1109 774.3,1107.4 774.8,1106.2 775.3,1106.8 775.9,1108.8 776.4,1107.3 776.9,1108.1 777.4,1106.7 777.9,1107 778.4,1107.8 778.9,1108.2 779.4,1108.5 779.9,1107.3 780.5,1107.8 781,1109 781.5,1108 782,1108.8 782.5,1108.1 783,1106.4 783.5,1107.7 784,1106.9 784.6,1107 785.1,1108.5 785.6,1106.6 786.1,1107.9 786.6,1108.2 787.1,1107.1 787.6,1107.6 788.1,1107.3 788.7,1108 789.2,1107.1 789.7,1108.2 790.2,1107.8 790.7,1108.2 791.2,1107.4 791.7,1107.7 792.2,1107.3 792.7,1107.7 793.3,1107.4 793.8,1107.8 794.3,1107.1 794.8,1107.4 795.3,1107.2 795.8,1106.7 796.3,1107.1 796.8,1107.4 797.4,1108.5 797.9,1107 798.4,1108.1 798.9,1108.2 799.4,1107.9 799.9,1108.3 800.4,1107.3 800.9,1107.8 801.5,1107.6 802,1108.4 802.5,1107.8 803,1109 803.5,1108 804,1108.1 804.5,1108.5 805,1107.8 805.5,1108.2 806.1,1107.8 806.6,1108.2 807.1,1108 807.6,1108.9 808.1,1107.2 808.6,1107.5 809.1,1107.5 809.6,1107.6 810.2,1107 810.7,1107.8 811.2,1107 811.7,1108 812.2,1108.9 812.7,1108 813.2,1107.7 813.7,1108 814.3,1107.9 814.8,1109 815.3,1107.3 815.8,1108 816.3,1107.2 816.8,1108.5 817.3,1107.5 817.8,1107.5 818.3,1107.1 818.9,1108.1 819.4,1107.4 819.9,1108.1 820.4,1108.7 820.9,1107 821.4,1107.9 821.9,1107.2 822.4,1107.4 823,1108 823.5,1107.4 824,1108.7 824.5,1108.4 825,1108.7 825.5,1109 826,1107.7 826.5,1107.2 827.1,1107 827.6,1107.6 828.1,1107.8 828.6,1107.9 829.1,1108 829.6,1108.5 830.1,1108.4 830.6,1108.7 831.1,1108 831.7,1107.8 832.2,1107.9 832.7,1108.4 833.2,1108.3 833.7,1107 834.2,1108 834.7,1108.3 835.2,1109 835.8,1106.6 836.3,1108.2 836.8,1108.7 837.3,1109 837.8,1107.2 838.3,1107.8 838.8,1108.2 839.3,1108.1 839.9,1108.2 840.4,1108.1 840.9,1107.7 841.4,1107.7 841.9,1107.3 842.4,1107.2 842.9,1107.4 843.4,1108.1 843.9,1107.9 844.5,1108.3 845,1109 845.5,1109 846,1108.6 846.5,1107.3 847,1108.5 847.5,1108.3 848,1108.3 848.6,1108.5 849.1,1108 849.6,1107.2 850.1,1108.6 850.6,1107.7 851.1,1108.1 851.6,1107.4 852.1,1108 852.7,1107.6 853.2,1107.9 853.7,1107.2 854.2,1108.9 854.7,1108.1 855.2,1109 855.7,1107.4 856.2,1106.8 856.7,1107.4 857.3,1107.7 857.8,1107.8 858.3,1107.8 858.8,1108.3 859.3,1108 859.8,1107.6 860.3,1107.5 860.8,1107.9 861.4,1109 861.9,1107.9 862.4,1107 862.9,1107.3 863.4,1108.5 863.9,1108.7 864.4,1108.2 864.9,1108.3 865.5,1108 866,1108 866.5,1109 867,1107.6 867.5,1108.6 868,1108 868.5,1107.8 869,1108 869.5,1108 870.1,1107.7 870.6,1107.6 871.1,1107.7 871.6,1107.3 872.1,1108.1 872.6,1107.7 873.1,1107.7 873.6,1107.6 874.2,1107 874.7,1107.7 875.2,1107.6 875.7,1108 876.2,1108.8 876.7,1108 877.2,1108.6 877.7,1108.4 878.3,1107.9 878.8,1106.6 879.3,1108.2 879.8,1108.9 880.3,1108.7 880.8,1108 881.3,1108.6 881.8,1108.1 882.3,1108.8 882.9,1108.8 883.4,1108.8 883.9,1108.5 884.4,1108.1 884.9,1108.6 885.4,1108.6 885.9,1107.9 886.4,1109 887,1107.9 887.5,1107.7 888,1108 888.5,1108.1 889,1107.8 889.5,1107.5 890,1106 890.5,1104 891.1,1098.6 891.6,1100.2 892.1,1100.8 892.6,1100.9 893.1,1104.9 893.6,1100.5 894.1,1095.8 894.6,1085.9 895.1,1089.1 895.7,1093.8 896.2,1099.7 896.7,1104.9 897.2,1106.7 897.7,1106.9 898.2,1106.7 898.7,1108.1 899.2,1108.1 899.8,1107.9 900.3,1108 900.8,1109 901.3,1108 901.8,1108.7 902.3,1108.8 902.8,1108.9 903.3,1108.5 903.9,1108.8 904.4,1108.4 904.9,1108.3 905.4,1108.3 905.9,1108.8 906.4,1108.1 906.9,1108.7 907.4,1108 907.9,1108.8 908.5,1108.6 909,1108.3 909.5,1107.8 910,1108.6 910.5,1108 911,1108.4 911.5,1108.6 912,1108.2 912.6,1108.2 913.1,1107.9 913.6,1109 914.1,1107.4 914.6,1108.1 915.1,1108.1 915.6,1108.1 916.1,1109 916.7,1108 917.2,1108.5 917.7,1108.4 918.2,1108.3 918.7,1108.7 919.2,1108.3 919.7,1108.5 920.2,1108.2 920.7,1108.1 921.3,1108.5 921.8,1108.5 922.3,1108.4 922.8,1108.3 923.3,1109 923.8,1108.8 924.3,1107.5 924.8,1108.6 925.4,1108.2 925.9,1107.9 926.4,1107.9 926.9,1108.5 927.4,1108.7 927.9,1107.6 928.4,1108.3 928.9,1108.3 929.5,1108.6 930,1108.3 930.5,1108.8 931,1108.1 931.5,1108.9" fill="none" stroke="#000" stroke-width="1.9" stroke-linejoin="round"/>
<polyline points="173.2,1108.3 173.7,1107.8 174.3,1107.7 174.8,1108.7 175.3,1107.6 175.8,1107 176.3,1107.9 176.8,1107.7 177.3,1106.4 177.8,1107.4 178.3,1108.4 178.9,1106.9 179.4,1105.7 179.9,1105.9 180.4,1107.7 180.9,1107 181.4,1107.1 181.9,1106.5 182.4,1107.1 183,1106.9 183.5,1106.7 184,1106.8 184.5,1106.1 185,1106.9 185.5,1106.2 186,1106.5 186.5,1105.7 187.1,1104.4 187.6,1106.5 188.1,1106.3 188.6,1105.1 189.1,1105.9 189.6,1108.1 190.1,1105.5 190.6,1106.3 191.1,1104.9 191.7,1105.2 192.2,1105.7 192.7,1106.8 193.2,1104.3 193.7,1104 194.2,1104.9 194.7,1104.6 195.2,1104.4 195.8,1103.7 196.3,1103.8 196.8,1103.9 197.3,1103.9 197.8,1104.1 198.3,1104.4 198.8,1102.9 199.3,1103.5 199.9,1102.3 200.4,1103.7 200.9,1103.9 201.4,1102.9 201.9,1103.8 202.4,1104.5 202.9,1102.9 203.4,1104.6 203.9,1104.3 204.5,1103 205,1104.6 205.5,1103.5 206,1102.2 206.5,1104 207,1103 207.5,1103.1 208,1103.2 208.6,1101.6 209.1,1101.3 209.6,1099.7 210.1,1098.5 210.6,1096.3 211.1,1093.8 211.6,1085.4 212.1,1078.8 212.7,1082.8 213.2,1079.7 213.7,1070.9 214.2,1073.4 214.7,1071 215.2,1073.7 215.7,1070.8 216.2,1070.5 216.7,1068.4 217.3,1074.3 217.8,1074.5 218.3,1069.6 218.8,1071.7 219.3,1074 219.8,1074.3 220.3,1070.2 220.8,1068.4 221.4,1071.6 221.9,1068.6 222.4,1074.4 222.9,1068.7 223.4,1071.4 223.9,1067.3 224.4,1072.9 224.9,1072.6 225.5,1068.7 226,1066.5 226.5,1071.7 227,1068.4 227.5,1066 228,1066.3 228.5,1067.5 229,1071.5 229.5,1071.5 230.1,1069.2 230.6,1070.7 231.1,1069.5 231.6,1070.3 232.1,1069.7 232.6,1069.3 233.1,1073.9 233.6,1070.2 234.2,1072.1 234.7,1072.9 235.2,1069.4 235.7,1067.9 236.2,1069.3 236.7,1070.8 237.2,1072.3 237.7,1075.1 238.3,1072.3 238.8,1070.3 239.3,1071.6 239.8,1067.8 240.3,1068.8 240.8,1070.7 241.3,1070.9 241.8,1066.1 242.3,1073 242.9,1066.8 243.4,1073.7 243.9,1064.9 244.4,1067.1 244.9,1064.2 245.4,1067.8 245.9,1067.7 246.4,1065 247,1064.5 247.5,1068.4 248,1065.2 248.5,1069.8 249,1066.7 249.5,1068.6 250,1066.5 250.5,1062.5 251.1,1066.9 251.6,1059.6 252.1,1068.9 252.6,1059.2 253.1,1058.5 253.6,1063.4 254.1,1060.2 254.6,1059 255.1,1057.3 255.7,1062.6 256.2,1061.2 256.7,1063.4 257.2,1068.2 257.7,1069.4 258.2,1068.1 258.7,1071.3 259.2,1069 259.8,1068.3 260.3,1067.1 260.8,1067.4 261.3,1068 261.8,1062.9 262.3,1067.6 262.8,1068.9 263.3,1067.7 263.9,1069.7 264.4,1067.9 264.9,1065.6 265.4,1067.9 265.9,1064.8 266.4,1077.6 266.9,1065.8 267.4,1067.8 267.9,1065.4 268.5,1062.7 269,1067.3 269.5,1063.1 270,1066.9 270.5,1067.3 271,1071.8 271.5,1070.1 272,1065.1 272.6,1063.1 273.1,1068.8 273.6,1068.3 274.1,1066.7 274.6,1066.3 275.1,1070.7 275.6,1068.7 276.1,1066.1 276.7,1073.7 277.2,1070.7 277.7,1072.5 278.2,1071.5 278.7,1069.8 279.2,1069.1 279.7,1069.9 280.2,1072.1 280.7,1065.6 281.3,1071.5 281.8,1072.6 282.3,1075.4 282.8,1069.7 283.3,1069.9 283.8,1074.5 284.3,1071.4 284.8,1065.7 285.4,1064.2 285.9,1066.2 286.4,1067.6 286.9,1068.5 287.4,1065.8 287.9,1069 288.4,1064.9 288.9,1063.5 289.5,1064.4 290,1063.1 290.5,1062 291,1063.7 291.5,1062.8 292,1062.4 292.5,1069.7 293,1057.8 293.5,1060.7 294.1,1064.4 294.6,1068.6 295.1,1065.5 295.6,1059.9 296.1,1062.9 296.6,1060.9 297.1,1059.9 297.6,1073.1 298.2,1068.1 298.7,1062.1 299.2,1067.1 299.7,1063.6 300.2,1066.8 300.7,1067.7 301.2,1068.3 301.7,1068 302.3,1067.8 302.8,1070.4 303.3,1071.8 303.8,1072.2 304.3,1068 304.8,1070.4 305.3,1070.2 305.8,1070.3 306.3,1071.5 306.9,1062.3 307.4,1069.1 307.9,1070.5 308.4,1065.7 308.9,1066.7 309.4,1061.9 309.9,1070.7 310.4,1067.5 311,1069.3 311.5,1070.4 312,1063.2 312.5,1060.5 313,1067.6 313.5,1061.8 314,1064.2 314.5,1056.1 315.1,1056.7 315.6,1056.6 316.1,1055.6 316.6,1054 317.1,1054.1 317.6,1050.7 318.1,1054.3 318.6,1051.2 319.1,1057.7 319.7,1061.2 320.2,1060.4 320.7,1061.4 321.2,1062.8 321.7,1057.7 322.2,1062.5 322.7,1068.7 323.2,1069.9 323.8,1067.1 324.3,1068.7 324.8,1068.6 325.3,1069.8 325.8,1068.6 326.3,1071.3 326.8,1066.7 327.3,1069.6 327.9,1068.8 328.4,1069.6 328.9,1070.3 329.4,1073.6 329.9,1070.9 330.4,1068.4 330.9,1066.8 331.4,1068.5 331.9,1073 332.5,1077.1 333,1071.3 333.5,1075.2 334,1076 334.5,1072.8 335,1077.3 335.5,1075.1 336,1079.5 336.6,1077.9 337.1,1071 337.6,1072.6 338.1,1074 338.6,1073.6 339.1,1074.9 339.6,1070.9 340.1,1068.3 340.7,1069 341.2,1068.6 341.7,1065 342.2,1060 342.7,1056.8 343.2,1046.5 343.7,1044.6 344.2,1042 344.7,1042.2 345.3,1044.6 345.8,1043.4 346.3,1045.9 346.8,1047.9 347.3,1048.4 347.8,1056.5 348.3,1051.7 348.8,1055.5 349.4,1062.9 349.9,1071.8 350.4,1072.5 350.9,1072.1 351.4,1081 351.9,1076.4 352.4,1080.6 352.9,1079.4 353.5,1078.2 354,1083.5 354.5,1080.3 355,1082.5 355.5,1081.5 356,1078.7 356.5,1085.1 357,1083.8 357.5,1079.2 358.1,1085 358.6,1084.3 359.1,1083 359.6,1081.1 360.1,1080.5 360.6,1083.8 361.1,1083.8 361.6,1080.8 362.2,1086.3 362.7,1088.3 363.2,1084.6 363.7,1082.4 364.2,1081.9 364.7,1081.2 365.2,1086.7 365.7,1082.8 366.3,1083 366.8,1082.8 367.3,1082.6 367.8,1081.2 368.3,1084 368.8,1085.5 369.3,1084 369.8,1081.1 370.3,1083.1 370.9,1080.3 371.4,1084.3 371.9,1086.1 372.4,1086.8 372.9,1078.3 373.4,1085.5 373.9,1083.9 374.4,1078.5 375,1080.7 375.5,1083.1 376,1079.2 376.5,1088.1 377,1082.8 377.5,1080.6 378,1079.7 378.5,1081 379.1,1087.7 379.6,1083.8 380.1,1082.9 380.6,1081.5 381.1,1086.6 381.6,1080 382.1,1080.9 382.6,1082.6 383.1,1082.3 383.7,1082.3 384.2,1081.8 384.7,1080.7 385.2,1084.7 385.7,1084.5 386.2,1085.2 386.7,1085 387.2,1084.4 387.8,1084.1 388.3,1083.2 388.8,1080.9 389.3,1078.7 389.8,1082.8 390.3,1082 390.8,1084.9 391.3,1082.2 391.9,1085.9 392.4,1083.4 392.9,1081.9 393.4,1084.3 393.9,1083.4 394.4,1085.3 394.9,1082.1 395.4,1079.1 395.9,1079 396.5,1078.8 397,1082.7 397.5,1083.2 398,1085.2 398.5,1082.5 399,1082.2 399.5,1077.7 400,1080.4 400.6,1085.2 401.1,1082.8 401.6,1083.6 402.1,1082.2 402.6,1079.8 403.1,1081.8 403.6,1082.1 404.1,1085.8 404.7,1087.1 405.2,1081.5 405.7,1081.3 406.2,1084.4 406.7,1082.9 407.2,1081.8 407.7,1083.5 408.2,1084.7 408.7,1081.9 409.3,1080.8 409.8,1085.7 410.3,1082.1 410.8,1077.8 411.3,1083.4 411.8,1081.7 412.3,1082.8 412.8,1081.1 413.4,1081.5 413.9,1082.6 414.4,1085.1 414.9,1083.7 415.4,1082.9 415.9,1081.9 416.4,1080.4 416.9,1083.5 417.5,1079.3 418,1084.7 418.5,1079.5 419,1081.2 419.5,1076.4 420,1074.8 420.5,1072.9 421,1078.4 421.5,1074.5 422.1,1080.5 422.6,1075.5 423.1,1078.4 423.6,1079.6 424.1,1079.6 424.6,1082.4 425.1,1075.8 425.6,1085.2 426.2,1084.2 426.7,1083.7 427.2,1084.9 427.7,1086.2 428.2,1083.5 428.7,1083.1 429.2,1083.6 429.7,1081.4 430.3,1084.7 430.8,1082.6 431.3,1082 431.8,1081.9 432.3,1083.9 432.8,1083 433.3,1087.4 433.8,1085.6 434.3,1081.2 434.9,1084.2 435.4,1082.6 435.9,1083.2 436.4,1082.3 436.9,1082.2 437.4,1081.8 437.9,1080.6 438.4,1080.6 439,1082.5 439.5,1081.7 440,1084.8 440.5,1084.8 441,1085.7 441.5,1081.6 442,1084 442.5,1084.7 443.1,1084.2 443.6,1081.6 444.1,1082 444.6,1078.8 445.1,1082.3 445.6,1077.2 446.1,1078.9 446.6,1076.1 447.1,1070.8 447.7,1069.8 448.2,1070 448.7,1066.4 449.2,1071.3 449.7,1071.3 450.2,1075.7 450.7,1077.9 451.2,1076.2 451.8,1078.1 452.3,1078.8 452.8,1081.8 453.3,1077.4 453.8,1084.9 454.3,1081.2 454.8,1083.4 455.3,1084.5 455.9,1086.4 456.4,1086.6 456.9,1081.2 457.4,1086.1 457.9,1085.7 458.4,1082.7 458.9,1085.5 459.4,1085.7 459.9,1084.8 460.5,1086.9 461,1084.5 461.5,1083.6 462,1086.6 462.5,1079.8 463,1076.2 463.5,1078.6 464,1078.9 464.6,1074.5 465.1,1078.6 465.6,1080.7 466.1,1075.2 466.6,1080.9 467.1,1086.2 467.6,1085.4 468.1,1083.9 468.7,1082.1 469.2,1086.3 469.7,1085.3 470.2,1085 470.7,1085.1 471.2,1087.1 471.7,1084.1 472.2,1086.4 472.7,1084.9 473.3,1087.8 473.8,1089.5 474.3,1085.3 474.8,1084.5 475.3,1086.2 475.8,1085.5 476.3,1087.1 476.8,1087.7 477.4,1088 477.9,1086.9 478.4,1086 478.9,1085.4 479.4,1088.8 479.9,1086.9 480.4,1088.1 480.9,1085.9 481.5,1088.6 482,1087.7 482.5,1083.1 483,1085.2 483.5,1086.7 484,1086.9 484.5,1086.6 485,1087.6 485.5,1088.1 486.1,1083.8 486.6,1088.4 487.1,1089.4 487.6,1088.9 488.1,1085.7 488.6,1083.1 489.1,1091.5 489.6,1088.9 490.2,1085.6 490.7,1087.5 491.2,1087.3 491.7,1088.7 492.2,1087.9 492.7,1086.6 493.2,1086.5 493.7,1086.4 494.3,1085.1 494.8,1085.5 495.3,1084.3 495.8,1080.8 496.3,1086.8 496.8,1084.7 497.3,1086.4 497.8,1087.3 498.3,1083.6 498.9,1085.9 499.4,1089.5 499.9,1087.6 500.4,1087.5 500.9,1083.7 501.4,1088.6 501.9,1085.4 502.4,1086 503,1087.8 503.5,1087.8 504,1085 504.5,1087 505,1086.3 505.5,1087.7 506,1088.3 506.5,1087.2 507.1,1085.6 507.6,1084.6 508.1,1087.3 508.6,1085.2 509.1,1084.6 509.6,1086.6 510.1,1086 510.6,1087.9 511.1,1084.6 511.7,1085.8 512.2,1088.6 512.7,1088.3 513.2,1087.5 513.7,1087.9 514.2,1088 514.7,1088.7 515.2,1087.4 515.8,1085.3 516.3,1087.9 516.8,1084.9 517.3,1086.5 517.8,1086.9 518.3,1088.5 518.8,1085.6 519.3,1087.9 519.9,1083.1 520.4,1083.4 520.9,1086.3 521.4,1085.3 521.9,1084.2 522.4,1079.9 522.9,1076.5 523.4,1079.1 523.9,1080.4 524.5,1081.7 525,1081.6 525.5,1084.2 526,1082.9 526.5,1086 527,1081 527.5,1088.8 528,1084.9 528.6,1087.7 529.1,1085.8 529.6,1089.1 530.1,1085.4 530.6,1086.2 531.1,1084.4 531.6,1091 532.1,1085.6 532.7,1086.2 533.2,1089.2 533.7,1086.9 534.2,1085.6 534.7,1087 535.2,1084.8 535.7,1087.5 536.2,1087.8 536.7,1090.2 537.3,1094.1 537.8,1084.2 538.3,1088.3 538.8,1084.4 539.3,1087.2 539.8,1088.6 540.3,1090.5 540.8,1090.3 541.4,1085.2 541.9,1087 542.4,1089.1 542.9,1088.3 543.4,1088.3 543.9,1089.1 544.4,1085.1 544.9,1088.5 545.5,1086.9 546,1088.4 546.5,1085.8 547,1087.4 547.5,1089.5 548,1086.6 548.5,1086 549,1091 549.5,1089.6 550.1,1087.8 550.6,1085.5 551.1,1086.1 551.6,1087.2 552.1,1085.9 552.6,1085.1 553.1,1089.4 553.6,1086.5 554.2,1087.9 554.7,1087.6 555.2,1086.3 555.7,1087.7 556.2,1085 556.7,1086.8 557.2,1085.5 557.7,1086.2 558.3,1086 558.8,1086.8 559.3,1085.3 559.8,1087.3 560.3,1087.9 560.8,1089.4 561.3,1088.4 561.8,1083 562.3,1086.6 562.9,1086.5 563.4,1086.5 563.9,1086.1 564.4,1084.2 564.9,1082.2 565.4,1085.3 565.9,1085.8 566.4,1088.1 567,1087.2 567.5,1084.1 568,1087.2 568.5,1088.3 569,1088 569.5,1086.2 570,1089.3 570.5,1087.1 571.1,1088.2 571.6,1084.3 572.1,1087 572.6,1086.8 573.1,1087 573.6,1086.8 574.1,1085.3 574.6,1085.9 575.1,1084.5 575.7,1085.5 576.2,1085.1 576.7,1084.2 577.2,1088.6 577.7,1087.9 578.2,1085.7 578.7,1086.2 579.2,1087 579.8,1089.5 580.3,1086.8 580.8,1086.2 581.3,1090.2 581.8,1087.4 582.3,1081.3 582.8,1085.3 583.3,1086 583.9,1084.5 584.4,1088.3 584.9,1086.7 585.4,1088.3 585.9,1088 586.4,1087.6 586.9,1085 587.4,1087.8 587.9,1083.1 588.5,1085.6 589,1085.3 589.5,1087 590,1090.4 590.5,1085.8 591,1083.3 591.5,1086.4 592,1086.7 592.6,1083.9 593.1,1087 593.6,1090 594.1,1082.6 594.6,1084.4 595.1,1088 595.6,1087.3 596.1,1084.9 596.7,1087.3 597.2,1085.6 597.7,1080.7 598.2,1084.3 598.7,1083.8 599.2,1087.1 599.7,1088.5 600.2,1087.8 600.7,1086.7 601.3,1088.3 601.8,1084.9 602.3,1086.3 602.8,1088.5 603.3,1087.4 603.8,1084.8 604.3,1086.8 604.8,1085.2 605.4,1085.9 605.9,1089.8 606.4,1083.4 606.9,1087 607.4,1085.1 607.9,1089.8 608.4,1086.8 608.9,1084.1 609.5,1083.6 610,1086.7 610.5,1083.6 611,1086 611.5,1082.9 612,1081.4 612.5,1081.7 613,1078.9 613.5,1080.9 614.1,1082.2 614.6,1066.7 615.1,1065 615.6,1066.6 616.1,1076.4 616.6,1084 617.1,1084.7 617.6,1083.9 618.2,1083.5 618.7,1086.8 619.2,1089.8 619.7,1087.5 620.2,1086.1 620.7,1088.9 621.2,1087.5 621.7,1088.8 622.3,1092.2 622.8,1092.2 623.3,1092 623.8,1088.8 624.3,1089.4 624.8,1089.8 625.3,1087.8 625.8,1086.9 626.3,1088.5 626.9,1084.7 627.4,1084.3 627.9,1085.6 628.4,1085.7 628.9,1076.5 629.4,1084.4 629.9,1072.4 630.4,1045.3 631,1033.7 631.5,1045.9 632,1071.4 632.5,1079.9 633,1077 633.5,1085.7 634,1086.8 634.5,1087.4 635.1,1089.9 635.6,1088.7 636.1,1090.3 636.6,1091.3 637.1,1089.8 637.6,1091.8 638.1,1090.9 638.6,1092.1 639.1,1090 639.7,1091.5 640.2,1090.3 640.7,1089.4 641.2,1091.6 641.7,1091.6 642.2,1092.8 642.7,1093.1 643.2,1086.8 643.8,1092 644.3,1090.3 644.8,1091.4 645.3,1092.4 645.8,1093.4 646.3,1090.5 646.8,1089.6 647.3,1091.5 647.9,1095 648.4,1091.8 648.9,1091.2 649.4,1093.2 649.9,1088.8 650.4,1089.2 650.9,1092.1 651.4,1088.2 651.9,1090.5 652.5,1090.1 653,1093.2 653.5,1091.8 654,1093.9 654.5,1092.8 655,1087.1 655.5,1091.3 656,1091.9 656.6,1089.9 657.1,1093.2 657.6,1091.8 658.1,1089.3 658.6,1089.7 659.1,1091.7 659.6,1090.7 660.1,1090.9 660.7,1091.9 661.2,1094.9 661.7,1091.9 662.2,1092.9 662.7,1093.6 663.2,1094.2 663.7,1090 664.2,1090 664.7,1091.4 665.3,1091.4 665.8,1090.7 666.3,1091.7 666.8,1091.7 667.3,1090.6 667.8,1092.1 668.3,1091.4 668.8,1087.8 669.4,1091.1 669.9,1092 670.4,1091.6 670.9,1088.4 671.4,1092 671.9,1090.7 672.4,1086.7 672.9,1089.5 673.5,1092.8 674,1089.3 674.5,1088.8 675,1090.8 675.5,1087.3 676,1086.8 676.5,1089.3 677,1091 677.5,1089.8 678.1,1091.6 678.6,1090.6 679.1,1088.7 679.6,1090.5 680.1,1091.5 680.6,1090.3 681.1,1089.8 681.6,1091.8 682.2,1089.8 682.7,1091 683.2,1090.1 683.7,1090.5 684.2,1087.2 684.7,1091.7 685.2,1088.7 685.7,1088.5 686.3,1084.9 686.8,1086.5 687.3,1087.9 687.8,1087.5 688.3,1089 688.8,1090.1 689.3,1091.9 689.8,1086 690.3,1089.8 690.9,1085.1 691.4,1087 691.9,1089 692.4,1088 692.9,1087.8 693.4,1090.5 693.9,1089 694.4,1088.5 695,1088.7 695.5,1088.6 696,1089 696.5,1089.3 697,1088.5 697.5,1090.7 698,1087.1 698.5,1087.1 699.1,1087.4 699.6,1092.2 700.1,1091 700.6,1088.8 701.1,1091.8 701.6,1090.2 702.1,1088.7 702.6,1095.6 703.1,1086.8 703.7,1086.6 704.2,1091.8 704.7,1090.5 705.2,1090.3 705.7,1089.4 706.2,1089.5 706.7,1090.5 707.2,1089.5 707.8,1089.3 708.3,1090.2 708.8,1088.5 709.3,1092.4 709.8,1085.5 710.3,1088.1 710.8,1087.8 711.3,1090.9 711.9,1091.1 712.4,1089.1 712.9,1088 713.4,1086.3 713.9,1088.8 714.4,1088.4 714.9,1088.4 715.4,1090.8 715.9,1093.7 716.5,1087.8 717,1088.7 717.5,1091.8 718,1092.3 718.5,1091.4 719,1094.5 719.5,1092.3 720,1092.9 720.6,1093.6 721.1,1096.6 721.6,1095 722.1,1097.9 722.6,1098.3 723.1,1097.1 723.6,1100 724.1,1099.2 724.7,1099.4 725.2,1097.3 725.7,1098.3 726.2,1099.2 726.7,1095.9 727.2,1098.2 727.7,1096.9 728.2,1097.2 728.7,1094.9 729.3,1091.6 729.8,1089.7 730.3,1085.6 730.8,1088.8 730.9,1088.8 731.1,1086.6 731.2,1085.7 731.3,1085.7 731.4,1081.8 731.6,1074.7 731.7,1071.8 731.8,1071.8 731.9,1060.4 732.1,1046.3 732.2,1037.7 732.3,1033.6 732.5,1031.8 732.6,1025.2 732.7,1014.3 732.8,1003.9 733,1003.9 733.1,1003.9 733.2,1009.5 733.4,1013.6 733.5,1018.5 733.6,1031.9 733.7,1041.8 733.9,1049.7 734,1056.5 734.1,1058.5 734.3,1063.6 734.4,1063.6 734.5,1061 734.6,1053.7 734.8,1044.6 734.9,1032 735,1031 735.1,1015.2 735.3,993.4 735.4,976.2 735.5,962 735.7,962 735.8,962 735.9,964.1 736,964.1 736.2,964.1 736.3,986.6 736.4,1008.8 736.6,1017.8 736.7,1029.8 736.8,1038.5 736.9,1043.6 737.1,1055 737.2,1060 737.3,1064.6 737.5,1071 737.6,1072.4 737.7,1076.2 737.8,1076.5 738,1076.5 738.1,1078.5 738.2,1084 738.3,1084 738.5,1084 738.6,1088 738.7,1088.3 738.9,1084.6 739,1084.6 739.1,1084.6 739.2,1086.5 739.4,1089.9 739.5,1091 740,1093.1 740.5,1097.5 741,1097.4 741.5,1095.3 742.1,1098.5 742.6,1101.3 743.1,1098.7 743.6,1100.9 744.1,1098.1 744.6,1099.1 745.1,1103 745.6,1102 746.2,1100.9 746.7,1101.3 747.2,1101.2 747.7,1102.2 748.2,1102.2 748.7,1100.9 749.2,1102.8 749.7,1102.1 750.3,1100.1 750.8,1101.9 751.3,1102.1 751.8,1103 752.3,1101.1 752.8,1103.1 753.3,1103.5 753.8,1102.4 754.3,1103.1 754.9,1101.8 755.4,1101.9 755.9,1104.4 756.4,1104.7 756.9,1104.3 757.4,1104.3 757.9,1102.9 758.4,1104.1 759,1104.7 759.5,1101.8 760,1105.5 760.5,1105.1 761,1104.2 761.5,1106 762,1105.5 762.5,1104.6 763.1,1103.1 763.6,1104.4 764.1,1105.6 764.6,1104.6 765.1,1102.8 765.6,1104 766.1,1104.5 766.6,1103.4 767.1,1105.1 767.7,1104.8 768.2,1106.7 768.7,1103.8 769.2,1104.3 769.7,1105.4 770.2,1104.9 770.7,1104.9 771.2,1104.5 771.8,1105.4 772.3,1105.6 772.8,1104.2 773.3,1106.3 773.8,1105.3 774.3,1106 774.8,1105 775.3,1104 775.9,1104.8 776.4,1104.6 776.9,1106.2 777.4,1107 777.9,1105.9 778.4,1104.9 778.9,1106.1 779.4,1106.7 779.9,1105.5 780.5,1106 781,1107.3 781.5,1105.4 782,1106.3 782.5,1106.8 783,1105.4 783.5,1105.4 784,1105.7 784.6,1105.6 785.1,1106.9 785.6,1106.4 786.1,1105.7 786.6,1107.9 787.1,1107.5 787.6,1105.5 788.1,1105.3 788.7,1105.3 789.2,1106.8 789.7,1105 790.2,1106.8 790.7,1106.5 791.2,1106.6 791.7,1106.4 792.2,1105.6 792.7,1104.7 793.3,1106.7 793.8,1106.2 794.3,1107.5 794.8,1106.2 795.3,1107.2 795.8,1106 796.3,1106.8 796.8,1106.9 797.4,1105.7 797.9,1106.9 798.4,1107.7 798.9,1106.5 799.4,1107 799.9,1106.8 800.4,1106.4 800.9,1105.7 801.5,1105.6 802,1107.4 802.5,1106.7 803,1105.4 803.5,1107.4 804,1107.3 804.5,1107.6 805,1107 805.5,1107.5 806.1,1107.3 806.6,1107.8 807.1,1106.3 807.6,1107 808.1,1106.3 808.6,1106.4 809.1,1107.2 809.6,1106.2 810.2,1106.7 810.7,1107.3 811.2,1107.1 811.7,1106.4 812.2,1107.9 812.7,1107.2 813.2,1106.7 813.7,1107.2 814.3,1107.5 814.8,1105.8 815.3,1108.3 815.8,1106.8 816.3,1106.7 816.8,1106.6 817.3,1107.3 817.8,1106.3 818.3,1107.4 818.9,1107.8 819.4,1107.5 819.9,1107.3 820.4,1107.2 820.9,1106.3 821.4,1108.3 821.9,1106.9 822.4,1106.7 823,1107.9 823.5,1107.3 824,1107.6 824.5,1107.9 825,1106 825.5,1108.4 826,1107 826.5,1107.4 827.1,1107.7 827.6,1106.8 828.1,1107.3 828.6,1106.4 829.1,1106.8 829.6,1107.4 830.1,1107.3 830.6,1107.2 831.1,1108.5 831.7,1107 832.2,1107.4 832.7,1107.6 833.2,1106.8 833.7,1106.9 834.2,1107.2 834.7,1107 835.2,1107.4 835.8,1107.3 836.3,1106.6 836.8,1107.1 837.3,1107.5 837.8,1107 838.3,1107.4 838.8,1107.5 839.3,1107.6 839.9,1107 840.4,1107.2 840.9,1107.3 841.4,1107.2 841.9,1107.6 842.4,1107.6 842.9,1108.1 843.4,1106.1 843.9,1107.6 844.5,1107.2 845,1107.7 845.5,1107.6 846,1108.5 846.5,1107.3 847,1107.1 847.5,1107.1 848,1106.9 848.6,1107.1 849.1,1107.5 849.6,1107.9 850.1,1107.4 850.6,1107.1 851.1,1106.4 851.6,1107.9 852.1,1107.4 852.7,1107.2 853.2,1108.2 853.7,1107.7 854.2,1107.1 854.7,1107.4 855.2,1107.4 855.7,1107.2 856.2,1107.7 856.7,1107.7 857.3,1107.7 857.8,1107.8 858.3,1107.2 858.8,1108.1 859.3,1107.1 859.8,1107.7 860.3,1107.7 860.8,1107.9 861.4,1107.7 861.9,1108.2 862.4,1108.4 862.9,1107.9 863.4,1107.8 863.9,1108.1 864.4,1107.8 864.9,1107.4 865.5,1107.4 866,1107.9 866.5,1107.6 867,1107.4 867.5,1107.8 868,1108.2 868.5,1108.4 869,1107 869.5,1107.9 870.1,1107.3 870.6,1108.6 871.1,1108.2 871.6,1108.6 872.1,1107.5 872.6,1107.6 873.1,1108.4 873.6,1107.8 874.2,1107.1 874.7,1107.7 875.2,1106.9 875.7,1107.7 876.2,1108.3 876.7,1107.7 877.2,1109 877.7,1108.7 878.3,1107.5 878.8,1107.5 879.3,1107.4 879.8,1107.6 880.3,1107.9 880.8,1108.2 881.3,1108.1 881.8,1107.9 882.3,1108.2 882.9,1108.6 883.4,1108.6 883.9,1108.6 884.4,1107.8 884.9,1107.9 885.4,1108.1 885.9,1108.4 886.4,1107.4 887,1108.6 887.5,1107.8 888,1107.5 888.5,1107.4 889,1106.8 889.5,1106.7 890,1104.7 890.5,1105 891.1,1102.9 891.6,1102.5 892.1,1103.1 892.6,1103.5 893.1,1101.3 893.6,1103.1 894.1,1096.9 894.6,1100.4 895.1,1098.5 895.7,1101.2 896.2,1103.2 896.7,1105.1 897.2,1107.7 897.7,1106.5 898.2,1108.3 898.7,1107.7 899.2,1107.6 899.8,1107.9 900.3,1108.2 900.8,1108.3 901.3,1108.5 901.8,1108.5 902.3,1108.5 902.8,1108.7 903.3,1108.6 903.9,1108.3 904.4,1107.7 904.9,1108.4 905.4,1108.2 905.9,1109 906.4,1108.7 906.9,1108.5 907.4,1108 907.9,1108.4 908.5,1108.7 909,1108.5 909.5,1108.3 910,1108.8 910.5,1108.9 911,1108.2 911.5,1108.3 912,1108.7 912.6,1108.5 913.1,1108.2 913.6,1108.1 914.1,1108.6 914.6,1108.6 915.1,1108.7 915.6,1108.7 916.1,1108.9 916.7,1108.5 917.2,1108.5 917.7,1108.1 918.2,1109 918.7,1108.2 919.2,1108 919.7,1108.2 920.2,1108.9 920.7,1109 921.3,1108.6 921.8,1108.5 922.3,1108.6 922.8,1108.3 923.3,1108.3 923.8,1108.4 924.3,1108.8 924.8,1108.6 925.4,1108.8 925.9,1108.7 926.4,1108.4 926.9,1108.1 927.4,1108.2 927.9,1108.3 928.4,1108.8 928.9,1108.6 929.5,1108.4 930,1108.6 930.5,1108.7 931,1108.2 931.5,1108" fill="none" stroke="#ff0000" stroke-width="1.9" stroke-linejoin="round"/>
<text x="163.5" y="1147" font-size="30.5" text-anchor="middle" fill="#262626" class="sans">0</text>
<text x="419.5" y="1147" font-size="30.5" text-anchor="middle" fill="#262626" class="sans">500</text>
<text x="675.5" y="1147" font-size="30.5" text-anchor="middle" fill="#262626" class="sans">1000</text>
<text x="931.5" y="1147" font-size="30.5" text-anchor="middle" fill="#262626" class="sans">1500</text>
<text x="154.8" y="1121.3" font-size="30.5" text-anchor="end" fill="#262626" class="sans">0</text>
<text x="154.8" y="1028.8" font-size="30.5" text-anchor="end" fill="#262626" class="sans">500</text>
<text x="154.8" y="936.3" font-size="30.5" text-anchor="end" fill="#262626" class="sans">1000</text>
<text x="154.8" y="843.8" font-size="30.5" text-anchor="end" fill="#262626" class="sans">1500</text>
<text transform="translate(547.9,1189.3) scale(1.035,1)" font-size="33.5" text-anchor="middle" fill="#262626" class="sans">Energy (eV)</text>
<text transform="translate(75.7,969.8) rotate(-90)" font-size="33.5" text-anchor="middle" fill="#262626" class="sans">Counts</text>
<rect x="193" y="849.5" width="297" height="117.5" fill="#fff"/>
<line x1="193" y1="849" x2="193" y2="967.5" stroke="#999999" stroke-width="1"/>
<line x1="490" y1="849" x2="490" y2="967.5" stroke="#a8a8a8" stroke-width="1"/>
<line x1="192.5" y1="849.5" x2="490.5" y2="849.5" stroke="#999999" stroke-width="1"/>
<line x1="192.5" y1="967" x2="490.5" y2="967" stroke="#a8a8a8" stroke-width="1"/>
<line x1="242.5" y1="967" x2="242.5" y2="964" stroke="#888" stroke-width="1"/>
<line x1="242.5" y1="849.5" x2="242.5" y2="852.5" stroke="#888" stroke-width="1"/>
<line x1="341.5" y1="967" x2="341.5" y2="964" stroke="#888" stroke-width="1"/>
<line x1="341.5" y1="849.5" x2="341.5" y2="852.5" stroke="#888" stroke-width="1"/>
<line x1="440.5" y1="967" x2="440.5" y2="964" stroke="#888" stroke-width="1"/>
<line x1="440.5" y1="849.5" x2="440.5" y2="852.5" stroke="#888" stroke-width="1"/>
<polyline points="193,962.9 196.6,964.8 200.2,963.7 203.8,962.1 207.4,964.7 211,965.2 214.6,963.7 218.2,964 221.8,964.1 225.4,964.6 229,962.9 232.6,963.2 236.2,964.5 239.8,964.1 243.4,965.5 247,965.3 250.6,964.6 254.2,963.5 257.8,963.5 261.4,962.3 265,964.9 268.6,961.8 272.2,961.7 275.8,964.3 279.4,962.4 283,962.5 286.6,963.8 290.2,962.9 293.8,964.3 297.4,962 301,962.1 304.6,961.8 308.2,962.6 311.8,963.2 315.4,963.1 319,964.1 320,962.7 322.6,963.2 324.3,959.6 327.7,959.6 330.2,957.6 332.8,958.9 335.4,957.6 337.1,954.2 339.6,956.7 343,956.7 345.6,955 348.1,951.6 350.7,946.5 353.3,940.5 355.8,932.8 358.4,921.8 360.9,908.1 362.6,900.4 364.7,896.2 367.4,887.3 369.5,889.7 372,896.2 374.2,904.7 376.3,914.9 378.8,928.6 380.5,937.1 383.1,943.9 385.7,950.7 388.2,950.7 391.6,949.9 394.2,952.5 396.8,955 398.5,953.3 400.2,949 402.7,948.2 405.3,944.8 407.8,938.8 410.4,930.3 413,916.6 414.7,903 416.7,896.2 418.1,875.7 419.3,856.9 421.5,861.2 424.4,852.7 427.1,870.6 429.5,875.7 431.7,885.9 433.4,903 436,921.8 438.5,932 441.1,939.7 442.8,945.6 444.5,950.7 447.1,951.6 449.6,957.6 453,958.9 456.4,962.3 459,961 461.6,961 464.1,963.5 466.7,962.7 470.1,964.4 473.5,965.2 476.1,967 478.6,963.5 483.7,964.9 490,966.4" fill="none" stroke="#000" stroke-width="1.7" stroke-linejoin="round"/>
<polyline points="193,964.3 196.6,962.5 200.2,962.7 203.8,963.7 207.4,964.3 211,963.8 214.6,963.8 218.2,964.8 221.8,963 225.4,963.3 229,964.5 232.6,962.2 236.2,962.1 239.8,963 243.4,963.5 247,963.6 250.6,965.2 254.2,963.7 257.8,961.3 261.4,964.6 265,964.3 268.6,964.1 272.2,963.7 275.8,961.4 279.4,961.1 283,964.3 286.6,963.8 290.2,961.2 293.8,962.4 297.4,961.7 301,963.5 304.6,960 308.2,963 311.8,961.5 315.4,961.8 319,961.8 320,961 322.6,959.3 325.1,960.6 327.7,960.1 330.2,957.9 332.8,958.9 335.4,960.1 337.9,952.8 339.6,953.8 342.2,951.6 344.7,953.3 347.3,943.9 349.8,938.8 352.4,935.4 355,934.5 357.5,933.7 360.1,928.6 362.6,923.5 364.9,919.5 367.4,927.7 369.8,924.3 372,930.3 374.6,936.3 378,941.4 381.4,945.6 384.8,946.5 387.4,950.7 389.9,948.2 393.3,949 395.9,947.3 398.5,943.9 401,939.7 403.6,933.7 407,933.7 409.5,920 412.1,913.2 414.7,903.8 416.7,901.3 419.3,912.4 421.8,904.7 424,902.6 426.1,916.6 428.3,924.3 430,927.7 431.7,927.7 434.3,938 436.8,936.3 439.4,943.1 442,946.5 444.5,947.3 447.1,951.6 450.5,952.5 454.7,955.5 459,953.8 463.3,958.4 467.5,957.6 471.8,960.6 476.9,960.1 481.2,957.2 483.7,960.1 490,961.3" fill="none" stroke="#ff0000" stroke-width="1.7" stroke-linejoin="round"/>
<text x="243.1" y="1001.3" font-size="26.7" text-anchor="middle" fill="#262626" class="sans">1100</text>
<text x="342.1" y="1001.3" font-size="26.7" text-anchor="middle" fill="#262626" class="sans">1110</text>
<text x="441.1" y="1001.3" font-size="26.7" text-anchor="middle" fill="#262626" class="sans">1120</text>
<line x1="790" y1="856.5" x2="815.6" y2="856.5" stroke="#000" stroke-width="1.8"/>
<line x1="790" y1="892.6" x2="815.6" y2="892.6" stroke="#ff0000" stroke-width="1.8"/>
<text x="818.6" y="867.8" font-size="27.8" text-anchor="start" fill="#000" class="sans blk">Ideal</text>
<text x="818.6" y="903" font-size="27.8" text-anchor="start" fill="#000" class="sans blk">Analysis</text>
<text fill="#000" class="serif"><tspan x="-1.6" y="849.3" font-size="39.2" textLength="19.3" lengthAdjust="spacingAndGlyphs">c</tspan><tspan x="18.3" y="849.2" font-size="46.3" textLength="12.6" lengthAdjust="spacingAndGlyphs">)</tspan></text>
</svg>
</body></html>
